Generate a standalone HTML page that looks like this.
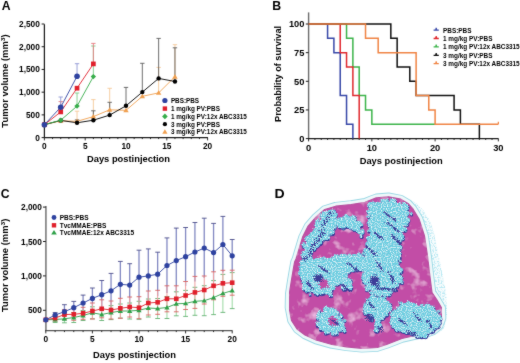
<!DOCTYPE html>
<html><head><meta charset="utf-8"><style>
html,body{margin:0;padding:0;background:#fff;}
svg{display:block;}
</style></head><body>
<svg width="520" height="363" viewBox="0 0 520 363" font-family="'Liberation Sans', sans-serif">
<defs><filter id="gb" x="0" y="0" width="520" height="363" filterUnits="userSpaceOnUse" color-interpolation-filters="sRGB"><feConvolveMatrix order="3" kernelMatrix="1 3.2 1 3.2 36 3.2 1 3.2 1" divisor="52.8" edgeMode="duplicate" preserveAlpha="true"/></filter></defs>
<g filter="url(#gb)">
<rect width="520" height="363" fill="#fff"/>
<text x="1.8" y="10.1" font-size="12.2" font-family="'Liberation Sans', sans-serif" font-weight="bold">A</text>
<path d="M44.4 24.3 V137.6 H207.9" stroke="#1c1c1c" stroke-width="1.25" fill="none"/>
<line x1="41.6" y1="137.60" x2="44.4" y2="137.60" stroke="#1c1c1c" stroke-width="1"/>
<text x="39.8" y="140.50" font-size="8.3" text-anchor="end" font-family="'Liberation Sans', sans-serif" font-weight="bold">0</text>
<line x1="41.6" y1="114.88" x2="44.4" y2="114.88" stroke="#1c1c1c" stroke-width="1"/>
<text x="39.8" y="117.78" font-size="8.3" text-anchor="end" font-family="'Liberation Sans', sans-serif" font-weight="bold">500</text>
<line x1="41.6" y1="92.16" x2="44.4" y2="92.16" stroke="#1c1c1c" stroke-width="1"/>
<text x="39.8" y="95.06" font-size="8.3" text-anchor="end" font-family="'Liberation Sans', sans-serif" font-weight="bold">1,000</text>
<line x1="41.6" y1="69.44" x2="44.4" y2="69.44" stroke="#1c1c1c" stroke-width="1"/>
<text x="39.8" y="72.34" font-size="8.3" text-anchor="end" font-family="'Liberation Sans', sans-serif" font-weight="bold">1,500</text>
<line x1="41.6" y1="46.72" x2="44.4" y2="46.72" stroke="#1c1c1c" stroke-width="1"/>
<text x="39.8" y="49.62" font-size="8.3" text-anchor="end" font-family="'Liberation Sans', sans-serif" font-weight="bold">2,000</text>
<line x1="41.6" y1="24.00" x2="44.4" y2="24.00" stroke="#1c1c1c" stroke-width="1"/>
<text x="39.8" y="26.90" font-size="8.3" text-anchor="end" font-family="'Liberation Sans', sans-serif" font-weight="bold">2,500</text>
<line x1="44.40" y1="137.6" x2="44.40" y2="140.4" stroke="#1c1c1c" stroke-width="0.9"/>
<text x="44.40" y="148.6" font-size="8.3" text-anchor="middle" font-family="'Liberation Sans', sans-serif" font-weight="bold">0</text>
<line x1="52.56" y1="137.6" x2="52.56" y2="139.1" stroke="#1c1c1c" stroke-width="0.9"/>
<line x1="60.72" y1="137.6" x2="60.72" y2="139.1" stroke="#1c1c1c" stroke-width="0.9"/>
<line x1="68.88" y1="137.6" x2="68.88" y2="139.1" stroke="#1c1c1c" stroke-width="0.9"/>
<line x1="77.04" y1="137.6" x2="77.04" y2="139.1" stroke="#1c1c1c" stroke-width="0.9"/>
<line x1="85.20" y1="137.6" x2="85.20" y2="140.4" stroke="#1c1c1c" stroke-width="0.9"/>
<text x="85.20" y="148.6" font-size="8.3" text-anchor="middle" font-family="'Liberation Sans', sans-serif" font-weight="bold">5</text>
<line x1="93.36" y1="137.6" x2="93.36" y2="139.1" stroke="#1c1c1c" stroke-width="0.9"/>
<line x1="101.52" y1="137.6" x2="101.52" y2="139.1" stroke="#1c1c1c" stroke-width="0.9"/>
<line x1="109.68" y1="137.6" x2="109.68" y2="139.1" stroke="#1c1c1c" stroke-width="0.9"/>
<line x1="117.84" y1="137.6" x2="117.84" y2="139.1" stroke="#1c1c1c" stroke-width="0.9"/>
<line x1="126.00" y1="137.6" x2="126.00" y2="140.4" stroke="#1c1c1c" stroke-width="0.9"/>
<text x="126.00" y="148.6" font-size="8.3" text-anchor="middle" font-family="'Liberation Sans', sans-serif" font-weight="bold">10</text>
<line x1="134.16" y1="137.6" x2="134.16" y2="139.1" stroke="#1c1c1c" stroke-width="0.9"/>
<line x1="142.32" y1="137.6" x2="142.32" y2="139.1" stroke="#1c1c1c" stroke-width="0.9"/>
<line x1="150.48" y1="137.6" x2="150.48" y2="139.1" stroke="#1c1c1c" stroke-width="0.9"/>
<line x1="158.64" y1="137.6" x2="158.64" y2="139.1" stroke="#1c1c1c" stroke-width="0.9"/>
<line x1="166.80" y1="137.6" x2="166.80" y2="140.4" stroke="#1c1c1c" stroke-width="0.9"/>
<text x="166.80" y="148.6" font-size="8.3" text-anchor="middle" font-family="'Liberation Sans', sans-serif" font-weight="bold">15</text>
<line x1="174.96" y1="137.6" x2="174.96" y2="139.1" stroke="#1c1c1c" stroke-width="0.9"/>
<line x1="183.12" y1="137.6" x2="183.12" y2="139.1" stroke="#1c1c1c" stroke-width="0.9"/>
<line x1="191.28" y1="137.6" x2="191.28" y2="139.1" stroke="#1c1c1c" stroke-width="0.9"/>
<line x1="199.44" y1="137.6" x2="199.44" y2="139.1" stroke="#1c1c1c" stroke-width="0.9"/>
<line x1="207.60" y1="137.6" x2="207.60" y2="140.4" stroke="#1c1c1c" stroke-width="0.9"/>
<text x="207.60" y="148.6" font-size="8.3" text-anchor="middle" font-family="'Liberation Sans', sans-serif" font-weight="bold">20</text>
<text x="128.5" y="161.6" font-size="9.35" text-anchor="middle" font-family="'Liberation Sans', sans-serif" font-weight="bold">Days postinjection</text>
<text transform="translate(8.0 81.0) rotate(-90) scale(1 0.9)" font-size="9.4" text-anchor="middle" font-family="'Liberation Sans', sans-serif" font-weight="bold">Tumor volume (mm<tspan font-size="6.6" dy="-3.4">3</tspan><tspan dy="3.4">)</tspan></text>
<line x1="77.04" y1="111.20" x2="77.04" y2="121.30" stroke="#f5c898" stroke-width="0.9"/><line x1="74.84" y1="111.20" x2="79.24" y2="111.20" stroke="#f5c898" stroke-width="0.9"/>
<line x1="93.36" y1="99.60" x2="93.36" y2="116.60" stroke="#f5c898" stroke-width="0.9"/><line x1="91.16" y1="99.60" x2="95.56" y2="99.60" stroke="#f5c898" stroke-width="0.9"/>
<line x1="109.68" y1="88.30" x2="109.68" y2="109.80" stroke="#f5c898" stroke-width="0.9"/><line x1="107.48" y1="88.30" x2="111.88" y2="88.30" stroke="#f5c898" stroke-width="0.9"/>
<line x1="158.64" y1="67.40" x2="158.64" y2="92.90" stroke="#f5c898" stroke-width="0.9"/><line x1="156.44" y1="67.40" x2="160.84" y2="67.40" stroke="#f5c898" stroke-width="0.9"/>
<line x1="174.96" y1="44.70" x2="174.96" y2="76.70" stroke="#f5c898" stroke-width="0.9"/><line x1="172.76" y1="44.70" x2="177.16" y2="44.70" stroke="#f5c898" stroke-width="0.9"/>
<line x1="77.04" y1="119.90" x2="77.04" y2="122.80" stroke="#5e5e5e" stroke-width="0.9"/><line x1="74.84" y1="119.90" x2="79.24" y2="119.90" stroke="#5e5e5e" stroke-width="0.9"/>
<line x1="93.36" y1="110.80" x2="93.36" y2="120.20" stroke="#5e5e5e" stroke-width="0.9"/><line x1="91.16" y1="110.80" x2="95.56" y2="110.80" stroke="#5e5e5e" stroke-width="0.9"/>
<line x1="109.68" y1="102.30" x2="109.68" y2="115.10" stroke="#5e5e5e" stroke-width="0.9"/><line x1="107.48" y1="102.30" x2="111.88" y2="102.30" stroke="#5e5e5e" stroke-width="0.9"/>
<line x1="126.00" y1="87.40" x2="126.00" y2="105.80" stroke="#5e5e5e" stroke-width="0.9"/><line x1="123.80" y1="87.40" x2="128.20" y2="87.40" stroke="#5e5e5e" stroke-width="0.9"/>
<line x1="142.32" y1="63.30" x2="142.32" y2="92.10" stroke="#5e5e5e" stroke-width="0.9"/><line x1="140.12" y1="63.30" x2="144.52" y2="63.30" stroke="#5e5e5e" stroke-width="0.9"/>
<line x1="158.64" y1="38.40" x2="158.64" y2="78.40" stroke="#5e5e5e" stroke-width="0.9"/><line x1="156.44" y1="38.40" x2="160.84" y2="38.40" stroke="#5e5e5e" stroke-width="0.9"/>
<line x1="174.96" y1="47.80" x2="174.96" y2="81.50" stroke="#5e5e5e" stroke-width="0.9"/><line x1="172.76" y1="47.80" x2="177.16" y2="47.80" stroke="#5e5e5e" stroke-width="0.9"/>
<line x1="77.04" y1="93.00" x2="77.04" y2="106.10" stroke="#7ccc88" stroke-width="0.9"/><line x1="74.84" y1="93.00" x2="79.24" y2="93.00" stroke="#7ccc88" stroke-width="0.9"/>
<line x1="93.36" y1="46.00" x2="93.36" y2="76.60" stroke="#7ccc88" stroke-width="0.9"/><line x1="91.16" y1="46.00" x2="95.56" y2="46.00" stroke="#7ccc88" stroke-width="0.9"/>
<line x1="60.72" y1="101.60" x2="60.72" y2="111.90" stroke="#e87a80" stroke-width="0.9"/><line x1="58.52" y1="101.60" x2="62.92" y2="101.60" stroke="#e87a80" stroke-width="0.9"/>
<line x1="93.36" y1="43.40" x2="93.36" y2="63.90" stroke="#e87a80" stroke-width="0.9"/><line x1="91.16" y1="43.40" x2="95.56" y2="43.40" stroke="#e87a80" stroke-width="0.9"/>
<line x1="60.72" y1="97.00" x2="60.72" y2="107.20" stroke="#8e96d4" stroke-width="0.9"/><line x1="58.52" y1="97.00" x2="62.92" y2="97.00" stroke="#8e96d4" stroke-width="0.9"/>
<line x1="77.04" y1="63.70" x2="77.04" y2="76.30" stroke="#8e96d4" stroke-width="0.9"/><line x1="74.84" y1="63.70" x2="79.24" y2="63.70" stroke="#8e96d4" stroke-width="0.9"/>
<polyline points="44.40,124.70 60.72,120.80 77.04,121.30 93.36,116.60 109.68,109.80 126.00,110.30 142.32,96.30 158.64,92.90 174.96,76.70" fill="none" stroke="#f0a050" stroke-width="0.9"/>
<polyline points="44.40,124.70 60.72,120.40 77.04,122.80 93.36,120.20 109.68,115.10 126.00,105.80 142.32,92.10 158.64,78.40 174.96,81.50" fill="none" stroke="#000000" stroke-width="0.9"/>
<polyline points="44.40,124.70 60.72,120.20 77.04,106.10 93.36,76.60" fill="none" stroke="#36ad4a" stroke-width="0.9"/>
<polyline points="44.40,124.70 60.72,111.90 77.04,88.20 93.36,63.90" fill="none" stroke="#e0202c" stroke-width="0.9"/>
<polyline points="44.40,124.70 60.72,107.20 77.04,76.30" fill="none" stroke="#2e42a0" stroke-width="0.9"/>
<path d="M44.40 122.10L47.13 126.65L41.67 126.65Z" fill="#f0a050"/>
<path d="M60.72 118.20L63.45 122.75L57.99 122.75Z" fill="#f0a050"/>
<path d="M77.04 118.70L79.77 123.25L74.31 123.25Z" fill="#f0a050"/>
<path d="M93.36 114.00L96.09 118.55L90.63 118.55Z" fill="#f0a050"/>
<path d="M109.68 107.20L112.41 111.75L106.95 111.75Z" fill="#f0a050"/>
<path d="M126.00 107.70L128.73 112.25L123.27 112.25Z" fill="#f0a050"/>
<path d="M142.32 93.70L145.05 98.25L139.59 98.25Z" fill="#f0a050"/>
<path d="M158.64 90.30L161.37 94.85L155.91 94.85Z" fill="#f0a050"/>
<path d="M174.96 74.10L177.69 78.65L172.23 78.65Z" fill="#f0a050"/>
<circle cx="44.40" cy="124.70" r="2.2" fill="#000000"/>
<circle cx="60.72" cy="120.40" r="2.2" fill="#000000"/>
<circle cx="77.04" cy="122.80" r="2.2" fill="#000000"/>
<circle cx="93.36" cy="120.20" r="2.2" fill="#000000"/>
<circle cx="109.68" cy="115.10" r="2.2" fill="#000000"/>
<circle cx="126.00" cy="105.80" r="2.2" fill="#000000"/>
<circle cx="142.32" cy="92.10" r="2.2" fill="#000000"/>
<circle cx="158.64" cy="78.40" r="2.2" fill="#000000"/>
<circle cx="174.96" cy="81.50" r="2.2" fill="#000000"/>
<path d="M44.40 122.00L47.10 124.70L44.40 127.40L41.70 124.70Z" fill="#36ad4a"/>
<path d="M60.72 117.50L63.42 120.20L60.72 122.90L58.02 120.20Z" fill="#36ad4a"/>
<path d="M77.04 103.40L79.74 106.10L77.04 108.80L74.34 106.10Z" fill="#36ad4a"/>
<path d="M93.36 73.90L96.06 76.60L93.36 79.30L90.66 76.60Z" fill="#36ad4a"/>
<rect x="42.05" y="122.35" width="4.7" height="4.7" fill="#e0202c"/>
<rect x="58.37" y="109.55" width="4.7" height="4.7" fill="#e0202c"/>
<rect x="74.69" y="85.85" width="4.7" height="4.7" fill="#e0202c"/>
<rect x="91.01" y="61.55" width="4.7" height="4.7" fill="#e0202c"/>
<circle cx="44.40" cy="124.70" r="2.8" fill="#2e42a0"/>
<circle cx="60.72" cy="107.20" r="2.8" fill="#2e42a0"/>
<circle cx="77.04" cy="76.30" r="2.8" fill="#2e42a0"/>
<circle cx="164.90" cy="100.50" r="2.6" fill="#2e42a0"/>
<text x="170.9" y="102.80" font-size="6.35" font-family="'Liberation Sans', sans-serif" font-weight="bold">PBS:PBS</text>
<rect x="162.70" y="106.40" width="4.4" height="4.4" fill="#e0202c"/>
<text x="170.9" y="110.90" font-size="6.35" font-family="'Liberation Sans', sans-serif" font-weight="bold">1 mg/kg PV:PBS</text>
<path d="M164.90 113.60L167.70 116.40L164.90 119.20L162.10 116.40Z" fill="#36ad4a"/>
<text x="170.9" y="118.70" font-size="6.35" font-family="'Liberation Sans', sans-serif" font-weight="bold">1 mg/kg PV:12x ABC3315</text>
<circle cx="164.90" cy="124.20" r="2.1" fill="#000000"/>
<text x="170.9" y="126.50" font-size="6.35" font-family="'Liberation Sans', sans-serif" font-weight="bold">3 mg/kg PV:PBS</text>
<path d="M164.90 129.30L167.53 133.68L162.28 133.68Z" fill="#f0a050"/>
<text x="170.9" y="134.10" font-size="6.35" font-family="'Liberation Sans', sans-serif" font-weight="bold">3 mg/kg PV:12x ABC3315</text>
<text x="272.3" y="10.0" font-size="12.3" font-family="'Liberation Sans', sans-serif" font-weight="bold">B</text>
<path d="M308.6 12.4 V138.6" stroke="#6c6c6c" stroke-width="1.4" fill="none"/>
<path d="M308.0 138.6 H498.55" stroke="#1c1c1c" stroke-width="1.2" fill="none"/>
<line x1="305.8" y1="138.60" x2="308.6" y2="138.60" stroke="#1c1c1c" stroke-width="1"/>
<text x="304.40000000000003" y="141.90" font-size="9.3" text-anchor="end" font-family="'Liberation Sans', sans-serif" font-weight="bold">0</text>
<line x1="305.8" y1="109.95" x2="308.6" y2="109.95" stroke="#1c1c1c" stroke-width="1"/>
<text x="304.40000000000003" y="113.25" font-size="9.3" text-anchor="end" font-family="'Liberation Sans', sans-serif" font-weight="bold">25</text>
<line x1="305.8" y1="81.30" x2="308.6" y2="81.30" stroke="#1c1c1c" stroke-width="1"/>
<text x="304.40000000000003" y="84.60" font-size="9.3" text-anchor="end" font-family="'Liberation Sans', sans-serif" font-weight="bold">50</text>
<line x1="305.8" y1="52.65" x2="308.6" y2="52.65" stroke="#1c1c1c" stroke-width="1"/>
<text x="304.40000000000003" y="55.95" font-size="9.3" text-anchor="end" font-family="'Liberation Sans', sans-serif" font-weight="bold">75</text>
<line x1="305.8" y1="24.00" x2="308.6" y2="24.00" stroke="#1c1c1c" stroke-width="1"/>
<text x="304.40000000000003" y="27.30" font-size="9.3" text-anchor="end" font-family="'Liberation Sans', sans-serif" font-weight="bold">100</text>
<line x1="308.60" y1="138.6" x2="308.60" y2="141.4" stroke="#1c1c1c" stroke-width="0.9"/>
<text x="308.60" y="150.5" font-size="9.3" text-anchor="middle" font-family="'Liberation Sans', sans-serif" font-weight="bold">0</text>
<line x1="314.93" y1="138.6" x2="314.93" y2="140.0" stroke="#1c1c1c" stroke-width="0.9"/>
<line x1="321.25" y1="138.6" x2="321.25" y2="140.0" stroke="#1c1c1c" stroke-width="0.9"/>
<line x1="327.58" y1="138.6" x2="327.58" y2="140.0" stroke="#1c1c1c" stroke-width="0.9"/>
<line x1="333.90" y1="138.6" x2="333.90" y2="140.0" stroke="#1c1c1c" stroke-width="0.9"/>
<line x1="340.23" y1="138.6" x2="340.23" y2="140.0" stroke="#1c1c1c" stroke-width="0.9"/>
<line x1="346.55" y1="138.6" x2="346.55" y2="140.0" stroke="#1c1c1c" stroke-width="0.9"/>
<line x1="352.88" y1="138.6" x2="352.88" y2="140.0" stroke="#1c1c1c" stroke-width="0.9"/>
<line x1="359.20" y1="138.6" x2="359.20" y2="140.0" stroke="#1c1c1c" stroke-width="0.9"/>
<line x1="365.53" y1="138.6" x2="365.53" y2="140.0" stroke="#1c1c1c" stroke-width="0.9"/>
<line x1="371.85" y1="138.6" x2="371.85" y2="141.4" stroke="#1c1c1c" stroke-width="0.9"/>
<text x="371.85" y="150.5" font-size="9.3" text-anchor="middle" font-family="'Liberation Sans', sans-serif" font-weight="bold">10</text>
<line x1="378.18" y1="138.6" x2="378.18" y2="140.0" stroke="#1c1c1c" stroke-width="0.9"/>
<line x1="384.50" y1="138.6" x2="384.50" y2="140.0" stroke="#1c1c1c" stroke-width="0.9"/>
<line x1="390.83" y1="138.6" x2="390.83" y2="140.0" stroke="#1c1c1c" stroke-width="0.9"/>
<line x1="397.15" y1="138.6" x2="397.15" y2="140.0" stroke="#1c1c1c" stroke-width="0.9"/>
<line x1="403.48" y1="138.6" x2="403.48" y2="140.0" stroke="#1c1c1c" stroke-width="0.9"/>
<line x1="409.80" y1="138.6" x2="409.80" y2="140.0" stroke="#1c1c1c" stroke-width="0.9"/>
<line x1="416.12" y1="138.6" x2="416.12" y2="140.0" stroke="#1c1c1c" stroke-width="0.9"/>
<line x1="422.45" y1="138.6" x2="422.45" y2="140.0" stroke="#1c1c1c" stroke-width="0.9"/>
<line x1="428.78" y1="138.6" x2="428.78" y2="140.0" stroke="#1c1c1c" stroke-width="0.9"/>
<line x1="435.10" y1="138.6" x2="435.10" y2="141.4" stroke="#1c1c1c" stroke-width="0.9"/>
<text x="435.10" y="150.5" font-size="9.3" text-anchor="middle" font-family="'Liberation Sans', sans-serif" font-weight="bold">20</text>
<line x1="441.43" y1="138.6" x2="441.43" y2="140.0" stroke="#1c1c1c" stroke-width="0.9"/>
<line x1="447.75" y1="138.6" x2="447.75" y2="140.0" stroke="#1c1c1c" stroke-width="0.9"/>
<line x1="454.08" y1="138.6" x2="454.08" y2="140.0" stroke="#1c1c1c" stroke-width="0.9"/>
<line x1="460.40" y1="138.6" x2="460.40" y2="140.0" stroke="#1c1c1c" stroke-width="0.9"/>
<line x1="466.73" y1="138.6" x2="466.73" y2="140.0" stroke="#1c1c1c" stroke-width="0.9"/>
<line x1="473.05" y1="138.6" x2="473.05" y2="140.0" stroke="#1c1c1c" stroke-width="0.9"/>
<line x1="479.38" y1="138.6" x2="479.38" y2="140.0" stroke="#1c1c1c" stroke-width="0.9"/>
<line x1="485.70" y1="138.6" x2="485.70" y2="140.0" stroke="#1c1c1c" stroke-width="0.9"/>
<line x1="492.03" y1="138.6" x2="492.03" y2="140.0" stroke="#1c1c1c" stroke-width="0.9"/>
<line x1="498.35" y1="138.6" x2="498.35" y2="141.4" stroke="#1c1c1c" stroke-width="0.9"/>
<text x="498.35" y="150.5" font-size="9.3" text-anchor="middle" font-family="'Liberation Sans', sans-serif" font-weight="bold">30</text>
<text x="401.2" y="163.5" font-size="9.35" text-anchor="middle" font-family="'Liberation Sans', sans-serif" font-weight="bold">Days postinjection</text>
<text transform="translate(281.4 73.9) rotate(-90)" font-size="9.2" text-anchor="middle" font-family="'Liberation Sans', sans-serif" font-weight="bold">Probability of survival</text>
<polyline points="308.60,24.00 346.55,24.00 346.55,38.33 352.88,38.33 352.88,66.97 359.20,66.97 359.20,95.62 365.53,95.62 365.53,109.95 371.85,109.95 371.85,124.27 435.10,124.27" fill="none" stroke="#3cb44a" stroke-width="1.5" stroke-linejoin="miter"/>
<polyline points="308.60,24.00 327.58,24.00 327.58,38.33 333.90,38.33 333.90,52.65 340.23,52.65 340.23,95.62 346.55,95.62 346.55,124.27 352.88,124.27 352.88,138.60" fill="none" stroke="#3848a8" stroke-width="1.5" stroke-linejoin="miter"/>
<polyline points="308.60,24.00 340.23,24.00 340.23,52.65 346.55,52.65 346.55,66.97 352.88,66.97 352.88,95.62 359.20,95.62 359.20,138.60" fill="none" stroke="#e0282e" stroke-width="1.5" stroke-linejoin="miter"/>
<polyline points="308.60,24.00 390.83,24.00 390.83,38.33 397.15,38.33 397.15,66.97 409.80,66.97 409.80,81.30 416.12,81.30 416.12,95.62 454.08,95.62 454.08,109.95 460.40,109.95 460.40,124.27 479.38,124.27 479.38,138.60" fill="none" stroke="#111111" stroke-width="1.5" stroke-linejoin="miter"/>
<polyline points="308.60,24.00 365.53,24.00 365.53,38.33 378.18,38.33 378.18,52.65 416.12,52.65 416.12,95.62 428.78,95.62 428.78,109.95 435.10,109.95 435.10,124.27 498.35,124.27" fill="none" stroke="#f08444" stroke-width="1.5" stroke-linejoin="miter"/>
<line x1="498.35" y1="124.27" x2="498.35" y2="121.77" stroke="#f08444" stroke-width="1.2"/>
<path d="M433.60 30.10H438.80M436.20 30.10V27.70" stroke="#3848a8" stroke-width="1.3" fill="none"/>
<path d="M434.90 29.60L436.20 28.30L437.50 29.60Z" fill="#3848a8"/>
<text x="443.0" y="32.50" font-size="6.42" font-family="'Liberation Sans', sans-serif" font-weight="bold">PBS:PBS</text>
<path d="M433.60 38.50H438.80M436.20 38.50V36.10" stroke="#e0282e" stroke-width="1.3" fill="none"/>
<path d="M434.90 38.00L436.20 36.70L437.50 38.00Z" fill="#e0282e"/>
<text x="443.0" y="40.90" font-size="6.42" font-family="'Liberation Sans', sans-serif" font-weight="bold">1 mg/kg PV:PBS</text>
<path d="M433.60 46.90H438.80M436.20 46.90V44.50" stroke="#3cb44a" stroke-width="1.3" fill="none"/>
<path d="M434.90 46.40L436.20 45.10L437.50 46.40Z" fill="#3cb44a"/>
<text x="443.0" y="49.30" font-size="6.42" font-family="'Liberation Sans', sans-serif" font-weight="bold">1 mg/kg PV:12x ABC3315</text>
<path d="M433.60 55.30H438.80M436.20 55.30V52.90" stroke="#111111" stroke-width="1.3" fill="none"/>
<path d="M434.90 54.80L436.20 53.50L437.50 54.80Z" fill="#111111"/>
<text x="443.0" y="57.70" font-size="6.42" font-family="'Liberation Sans', sans-serif" font-weight="bold">3 mg/kg PV:PBS</text>
<path d="M433.60 63.70H438.80M436.20 63.70V61.30" stroke="#f08444" stroke-width="1.3" fill="none"/>
<path d="M434.90 63.20L436.20 61.90L437.50 63.20Z" fill="#f08444"/>
<text x="443.0" y="66.10" font-size="6.42" font-family="'Liberation Sans', sans-serif" font-weight="bold">3 mg/kg PV:12x ABC3315</text>
<text x="0.7" y="198.2" font-size="12.2" font-family="'Liberation Sans', sans-serif" font-weight="bold">C</text>
<path d="M45.9 206.0 V330.6" stroke="#8a8a8a" stroke-width="1.8" fill="none"/>
<path d="M45.0 330.6 H232.5" stroke="#555" stroke-width="1.4" fill="none"/>
<line x1="43.0" y1="310.30" x2="45.8" y2="310.30" stroke="#1c1c1c" stroke-width="1"/>
<text x="41.8" y="313.30" font-size="8.3" text-anchor="end" font-family="'Liberation Sans', sans-serif" font-weight="bold">500</text>
<line x1="43.0" y1="275.90" x2="45.8" y2="275.90" stroke="#1c1c1c" stroke-width="1"/>
<text x="41.8" y="278.90" font-size="8.3" text-anchor="end" font-family="'Liberation Sans', sans-serif" font-weight="bold">1,000</text>
<line x1="43.0" y1="241.50" x2="45.8" y2="241.50" stroke="#1c1c1c" stroke-width="1"/>
<text x="41.8" y="244.50" font-size="8.3" text-anchor="end" font-family="'Liberation Sans', sans-serif" font-weight="bold">1,500</text>
<line x1="43.0" y1="207.10" x2="45.8" y2="207.10" stroke="#1c1c1c" stroke-width="1"/>
<text x="41.8" y="210.10" font-size="8.3" text-anchor="end" font-family="'Liberation Sans', sans-serif" font-weight="bold">2,000</text>
<line x1="45.80" y1="330.6" x2="45.80" y2="333.40000000000003" stroke="#1c1c1c" stroke-width="0.9"/>
<text x="45.80" y="341.9" font-size="8.3" text-anchor="middle" font-family="'Liberation Sans', sans-serif" font-weight="bold">0</text>
<line x1="55.12" y1="330.6" x2="55.12" y2="332.1" stroke="#1c1c1c" stroke-width="0.9"/>
<line x1="64.44" y1="330.6" x2="64.44" y2="332.1" stroke="#1c1c1c" stroke-width="0.9"/>
<line x1="73.76" y1="330.6" x2="73.76" y2="332.1" stroke="#1c1c1c" stroke-width="0.9"/>
<line x1="83.08" y1="330.6" x2="83.08" y2="332.1" stroke="#1c1c1c" stroke-width="0.9"/>
<line x1="92.40" y1="330.6" x2="92.40" y2="333.40000000000003" stroke="#1c1c1c" stroke-width="0.9"/>
<text x="92.40" y="341.9" font-size="8.3" text-anchor="middle" font-family="'Liberation Sans', sans-serif" font-weight="bold">5</text>
<line x1="101.72" y1="330.6" x2="101.72" y2="332.1" stroke="#1c1c1c" stroke-width="0.9"/>
<line x1="111.04" y1="330.6" x2="111.04" y2="332.1" stroke="#1c1c1c" stroke-width="0.9"/>
<line x1="120.36" y1="330.6" x2="120.36" y2="332.1" stroke="#1c1c1c" stroke-width="0.9"/>
<line x1="129.68" y1="330.6" x2="129.68" y2="332.1" stroke="#1c1c1c" stroke-width="0.9"/>
<line x1="139.00" y1="330.6" x2="139.00" y2="333.40000000000003" stroke="#1c1c1c" stroke-width="0.9"/>
<text x="139.00" y="341.9" font-size="8.3" text-anchor="middle" font-family="'Liberation Sans', sans-serif" font-weight="bold">10</text>
<line x1="148.32" y1="330.6" x2="148.32" y2="332.1" stroke="#1c1c1c" stroke-width="0.9"/>
<line x1="157.64" y1="330.6" x2="157.64" y2="332.1" stroke="#1c1c1c" stroke-width="0.9"/>
<line x1="166.96" y1="330.6" x2="166.96" y2="332.1" stroke="#1c1c1c" stroke-width="0.9"/>
<line x1="176.28" y1="330.6" x2="176.28" y2="332.1" stroke="#1c1c1c" stroke-width="0.9"/>
<line x1="185.60" y1="330.6" x2="185.60" y2="333.40000000000003" stroke="#1c1c1c" stroke-width="0.9"/>
<text x="185.60" y="341.9" font-size="8.3" text-anchor="middle" font-family="'Liberation Sans', sans-serif" font-weight="bold">15</text>
<line x1="194.92" y1="330.6" x2="194.92" y2="332.1" stroke="#1c1c1c" stroke-width="0.9"/>
<line x1="204.24" y1="330.6" x2="204.24" y2="332.1" stroke="#1c1c1c" stroke-width="0.9"/>
<line x1="213.56" y1="330.6" x2="213.56" y2="332.1" stroke="#1c1c1c" stroke-width="0.9"/>
<line x1="222.88" y1="330.6" x2="222.88" y2="332.1" stroke="#1c1c1c" stroke-width="0.9"/>
<line x1="232.20" y1="330.6" x2="232.20" y2="333.40000000000003" stroke="#1c1c1c" stroke-width="0.9"/>
<text x="232.20" y="341.9" font-size="8.3" text-anchor="middle" font-family="'Liberation Sans', sans-serif" font-weight="bold">20</text>
<text x="134.5" y="357.8" font-size="9.35" text-anchor="middle" font-family="'Liberation Sans', sans-serif" font-weight="bold">Days postinjection</text>
<text transform="translate(8.0 265.3) rotate(-90) scale(1 0.9)" font-size="9.4" text-anchor="middle" font-family="'Liberation Sans', sans-serif" font-weight="bold">Tumor volume (mm<tspan font-size="6.6" dy="-3.4">3</tspan><tspan dy="3.4">)</tspan></text>
<line x1="55.12" y1="312.60" x2="55.12" y2="317.40" stroke="#8288c2" stroke-width="1.3"/>
<line x1="52.72" y1="312.60" x2="57.52" y2="312.60" stroke="#4a4c88" stroke-width="0.9"/>
<line x1="64.44" y1="304.70" x2="64.44" y2="318.70" stroke="#8288c2" stroke-width="1.3"/>
<line x1="62.04" y1="304.70" x2="66.84" y2="304.70" stroke="#4a4c88" stroke-width="0.9"/>
<line x1="73.76" y1="301.40" x2="73.76" y2="314.00" stroke="#8288c2" stroke-width="1.3"/>
<line x1="71.36" y1="301.40" x2="76.16" y2="301.40" stroke="#4a4c88" stroke-width="0.9"/>
<line x1="83.08" y1="295.10" x2="83.08" y2="310.90" stroke="#8288c2" stroke-width="1.3"/>
<line x1="80.68" y1="295.10" x2="85.48" y2="295.10" stroke="#4a4c88" stroke-width="0.9"/>
<line x1="92.40" y1="288.00" x2="92.40" y2="308.80" stroke="#8288c2" stroke-width="1.3"/>
<line x1="90.00" y1="288.00" x2="94.80" y2="288.00" stroke="#4a4c88" stroke-width="0.9"/>
<line x1="101.72" y1="280.50" x2="101.72" y2="308.90" stroke="#8288c2" stroke-width="1.3"/>
<line x1="99.32" y1="280.50" x2="104.12" y2="280.50" stroke="#4a4c88" stroke-width="0.9"/>
<line x1="111.04" y1="273.40" x2="111.04" y2="308.20" stroke="#8288c2" stroke-width="1.3"/>
<line x1="108.64" y1="273.40" x2="113.44" y2="273.40" stroke="#4a4c88" stroke-width="0.9"/>
<line x1="120.36" y1="261.40" x2="120.36" y2="307.20" stroke="#8288c2" stroke-width="1.3"/>
<line x1="117.96" y1="261.40" x2="122.76" y2="261.40" stroke="#4a4c88" stroke-width="0.9"/>
<line x1="129.68" y1="263.70" x2="129.68" y2="306.50" stroke="#8288c2" stroke-width="1.3"/>
<line x1="127.28" y1="263.70" x2="132.08" y2="263.70" stroke="#4a4c88" stroke-width="0.9"/>
<line x1="139.00" y1="250.20" x2="139.00" y2="304.20" stroke="#8288c2" stroke-width="1.3"/>
<line x1="136.60" y1="250.20" x2="141.40" y2="250.20" stroke="#4a4c88" stroke-width="0.9"/>
<line x1="148.32" y1="248.90" x2="148.32" y2="302.90" stroke="#8288c2" stroke-width="1.3"/>
<line x1="145.92" y1="248.90" x2="150.72" y2="248.90" stroke="#4a4c88" stroke-width="0.9"/>
<line x1="157.64" y1="252.20" x2="157.64" y2="296.20" stroke="#8288c2" stroke-width="1.3"/>
<line x1="155.24" y1="252.20" x2="160.04" y2="252.20" stroke="#4a4c88" stroke-width="0.9"/>
<line x1="166.96" y1="237.90" x2="166.96" y2="293.10" stroke="#8288c2" stroke-width="1.3"/>
<line x1="164.56" y1="237.90" x2="169.36" y2="237.90" stroke="#4a4c88" stroke-width="0.9"/>
<line x1="176.28" y1="228.10" x2="176.28" y2="293.10" stroke="#8288c2" stroke-width="1.3"/>
<line x1="173.88" y1="228.10" x2="178.68" y2="228.10" stroke="#4a4c88" stroke-width="0.9"/>
<line x1="185.60" y1="227.50" x2="185.60" y2="285.90" stroke="#8288c2" stroke-width="1.3"/>
<line x1="183.20" y1="227.50" x2="188.00" y2="227.50" stroke="#4a4c88" stroke-width="0.9"/>
<line x1="194.92" y1="222.50" x2="194.92" y2="281.50" stroke="#8288c2" stroke-width="1.3"/>
<line x1="192.52" y1="222.50" x2="197.32" y2="222.50" stroke="#4a4c88" stroke-width="0.9"/>
<line x1="204.24" y1="218.20" x2="204.24" y2="278.00" stroke="#8288c2" stroke-width="1.3"/>
<line x1="201.84" y1="218.20" x2="206.64" y2="218.20" stroke="#4a4c88" stroke-width="0.9"/>
<line x1="213.56" y1="223.40" x2="213.56" y2="281.80" stroke="#8288c2" stroke-width="1.3"/>
<line x1="211.16" y1="223.40" x2="215.96" y2="223.40" stroke="#4a4c88" stroke-width="0.9"/>
<line x1="222.88" y1="216.40" x2="222.88" y2="272.60" stroke="#8288c2" stroke-width="1.3"/>
<line x1="220.48" y1="216.40" x2="225.28" y2="216.40" stroke="#4a4c88" stroke-width="0.9"/>
<line x1="232.20" y1="239.50" x2="232.20" y2="272.10" stroke="#8288c2" stroke-width="1.3"/>
<line x1="229.80" y1="239.50" x2="234.60" y2="239.50" stroke="#4a4c88" stroke-width="0.9"/>
<line x1="55.12" y1="316.50" x2="55.12" y2="322.50" stroke="#98d8a0" stroke-width="1"/>
<line x1="52.72" y1="322.50" x2="57.52" y2="322.50" stroke="#62b070" stroke-width="0.9"/>
<line x1="52.72" y1="316.50" x2="57.52" y2="316.50" stroke="#62b070" stroke-width="0.9"/>
<line x1="64.44" y1="314.80" x2="64.44" y2="322.80" stroke="#98d8a0" stroke-width="1"/>
<line x1="62.04" y1="322.80" x2="66.84" y2="322.80" stroke="#62b070" stroke-width="0.9"/>
<line x1="62.04" y1="314.80" x2="66.84" y2="314.80" stroke="#62b070" stroke-width="0.9"/>
<line x1="73.76" y1="312.50" x2="73.76" y2="322.50" stroke="#98d8a0" stroke-width="1"/>
<line x1="71.36" y1="322.50" x2="76.16" y2="322.50" stroke="#62b070" stroke-width="0.9"/>
<line x1="71.36" y1="312.50" x2="76.16" y2="312.50" stroke="#62b070" stroke-width="0.9"/>
<line x1="83.08" y1="310.50" x2="83.08" y2="320.50" stroke="#98d8a0" stroke-width="1"/>
<line x1="80.68" y1="320.50" x2="85.48" y2="320.50" stroke="#62b070" stroke-width="0.9"/>
<line x1="80.68" y1="310.50" x2="85.48" y2="310.50" stroke="#62b070" stroke-width="0.9"/>
<line x1="92.40" y1="306.80" x2="92.40" y2="318.80" stroke="#98d8a0" stroke-width="1"/>
<line x1="90.00" y1="318.80" x2="94.80" y2="318.80" stroke="#62b070" stroke-width="0.9"/>
<line x1="90.00" y1="306.80" x2="94.80" y2="306.80" stroke="#62b070" stroke-width="0.9"/>
<line x1="101.72" y1="308.50" x2="101.72" y2="320.50" stroke="#98d8a0" stroke-width="1"/>
<line x1="99.32" y1="320.50" x2="104.12" y2="320.50" stroke="#62b070" stroke-width="0.9"/>
<line x1="99.32" y1="308.50" x2="104.12" y2="308.50" stroke="#62b070" stroke-width="0.9"/>
<line x1="111.04" y1="305.60" x2="111.04" y2="319.60" stroke="#98d8a0" stroke-width="1"/>
<line x1="108.64" y1="319.60" x2="113.44" y2="319.60" stroke="#62b070" stroke-width="0.9"/>
<line x1="108.64" y1="305.60" x2="113.44" y2="305.60" stroke="#62b070" stroke-width="0.9"/>
<line x1="120.36" y1="304.00" x2="120.36" y2="318.00" stroke="#98d8a0" stroke-width="1"/>
<line x1="117.96" y1="318.00" x2="122.76" y2="318.00" stroke="#62b070" stroke-width="0.9"/>
<line x1="117.96" y1="304.00" x2="122.76" y2="304.00" stroke="#62b070" stroke-width="0.9"/>
<line x1="129.68" y1="303.00" x2="129.68" y2="319.00" stroke="#98d8a0" stroke-width="1"/>
<line x1="127.28" y1="319.00" x2="132.08" y2="319.00" stroke="#62b070" stroke-width="0.9"/>
<line x1="127.28" y1="303.00" x2="132.08" y2="303.00" stroke="#62b070" stroke-width="0.9"/>
<line x1="139.00" y1="301.30" x2="139.00" y2="319.30" stroke="#98d8a0" stroke-width="1"/>
<line x1="136.60" y1="319.30" x2="141.40" y2="319.30" stroke="#62b070" stroke-width="0.9"/>
<line x1="136.60" y1="301.30" x2="141.40" y2="301.30" stroke="#62b070" stroke-width="0.9"/>
<line x1="148.32" y1="299.00" x2="148.32" y2="317.00" stroke="#98d8a0" stroke-width="1"/>
<line x1="145.92" y1="317.00" x2="150.72" y2="317.00" stroke="#62b070" stroke-width="0.9"/>
<line x1="145.92" y1="299.00" x2="150.72" y2="299.00" stroke="#62b070" stroke-width="0.9"/>
<line x1="157.64" y1="298.50" x2="157.64" y2="318.50" stroke="#98d8a0" stroke-width="1"/>
<line x1="155.24" y1="318.50" x2="160.04" y2="318.50" stroke="#62b070" stroke-width="0.9"/>
<line x1="155.24" y1="298.50" x2="160.04" y2="298.50" stroke="#62b070" stroke-width="0.9"/>
<line x1="166.96" y1="296.50" x2="166.96" y2="318.50" stroke="#98d8a0" stroke-width="1"/>
<line x1="164.56" y1="318.50" x2="169.36" y2="318.50" stroke="#62b070" stroke-width="0.9"/>
<line x1="164.56" y1="296.50" x2="169.36" y2="296.50" stroke="#62b070" stroke-width="0.9"/>
<line x1="176.28" y1="291.80" x2="176.28" y2="315.80" stroke="#98d8a0" stroke-width="1"/>
<line x1="173.88" y1="315.80" x2="178.68" y2="315.80" stroke="#62b070" stroke-width="0.9"/>
<line x1="173.88" y1="291.80" x2="178.68" y2="291.80" stroke="#62b070" stroke-width="0.9"/>
<line x1="185.60" y1="290.40" x2="185.60" y2="316.40" stroke="#98d8a0" stroke-width="1"/>
<line x1="183.20" y1="316.40" x2="188.00" y2="316.40" stroke="#62b070" stroke-width="0.9"/>
<line x1="183.20" y1="290.40" x2="188.00" y2="290.40" stroke="#62b070" stroke-width="0.9"/>
<line x1="194.92" y1="287.30" x2="194.92" y2="315.30" stroke="#98d8a0" stroke-width="1"/>
<line x1="192.52" y1="315.30" x2="197.32" y2="315.30" stroke="#62b070" stroke-width="0.9"/>
<line x1="192.52" y1="287.30" x2="197.32" y2="287.30" stroke="#62b070" stroke-width="0.9"/>
<line x1="204.24" y1="285.70" x2="204.24" y2="315.70" stroke="#98d8a0" stroke-width="1"/>
<line x1="201.84" y1="315.70" x2="206.64" y2="315.70" stroke="#62b070" stroke-width="0.9"/>
<line x1="201.84" y1="285.70" x2="206.64" y2="285.70" stroke="#62b070" stroke-width="0.9"/>
<line x1="213.56" y1="280.60" x2="213.56" y2="314.60" stroke="#98d8a0" stroke-width="1"/>
<line x1="211.16" y1="314.60" x2="215.96" y2="314.60" stroke="#62b070" stroke-width="0.9"/>
<line x1="211.16" y1="280.60" x2="215.96" y2="280.60" stroke="#62b070" stroke-width="0.9"/>
<line x1="222.88" y1="274.40" x2="222.88" y2="312.40" stroke="#98d8a0" stroke-width="1"/>
<line x1="220.48" y1="312.40" x2="225.28" y2="312.40" stroke="#62b070" stroke-width="0.9"/>
<line x1="220.48" y1="274.40" x2="225.28" y2="274.40" stroke="#62b070" stroke-width="0.9"/>
<line x1="232.20" y1="272.60" x2="232.20" y2="308.60" stroke="#98d8a0" stroke-width="1"/>
<line x1="229.80" y1="308.60" x2="234.60" y2="308.60" stroke="#62b070" stroke-width="0.9"/>
<line x1="229.80" y1="272.60" x2="234.60" y2="272.60" stroke="#62b070" stroke-width="0.9"/>
<line x1="55.12" y1="315.00" x2="55.12" y2="321.00" stroke="#f0a0a0" stroke-width="1"/>
<line x1="52.72" y1="321.00" x2="57.52" y2="321.00" stroke="#d86060" stroke-width="0.9"/>
<line x1="52.72" y1="315.00" x2="57.52" y2="315.00" stroke="#d86060" stroke-width="0.9"/>
<line x1="64.44" y1="309.60" x2="64.44" y2="319.60" stroke="#f0a0a0" stroke-width="1"/>
<line x1="62.04" y1="319.60" x2="66.84" y2="319.60" stroke="#d86060" stroke-width="0.9"/>
<line x1="62.04" y1="309.60" x2="66.84" y2="309.60" stroke="#d86060" stroke-width="0.9"/>
<line x1="73.76" y1="308.30" x2="73.76" y2="320.30" stroke="#f0a0a0" stroke-width="1"/>
<line x1="71.36" y1="320.30" x2="76.16" y2="320.30" stroke="#d86060" stroke-width="0.9"/>
<line x1="71.36" y1="308.30" x2="76.16" y2="308.30" stroke="#d86060" stroke-width="0.9"/>
<line x1="83.08" y1="307.30" x2="83.08" y2="319.30" stroke="#f0a0a0" stroke-width="1"/>
<line x1="80.68" y1="319.30" x2="85.48" y2="319.30" stroke="#d86060" stroke-width="0.9"/>
<line x1="80.68" y1="307.30" x2="85.48" y2="307.30" stroke="#d86060" stroke-width="0.9"/>
<line x1="92.40" y1="303.00" x2="92.40" y2="319.00" stroke="#f0a0a0" stroke-width="1"/>
<line x1="90.00" y1="319.00" x2="94.80" y2="319.00" stroke="#d86060" stroke-width="0.9"/>
<line x1="90.00" y1="303.00" x2="94.80" y2="303.00" stroke="#d86060" stroke-width="0.9"/>
<line x1="101.72" y1="299.80" x2="101.72" y2="317.80" stroke="#f0a0a0" stroke-width="1"/>
<line x1="99.32" y1="317.80" x2="104.12" y2="317.80" stroke="#d86060" stroke-width="0.9"/>
<line x1="99.32" y1="299.80" x2="104.12" y2="299.80" stroke="#d86060" stroke-width="0.9"/>
<line x1="111.04" y1="301.00" x2="111.04" y2="319.00" stroke="#f0a0a0" stroke-width="1"/>
<line x1="108.64" y1="319.00" x2="113.44" y2="319.00" stroke="#d86060" stroke-width="0.9"/>
<line x1="108.64" y1="301.00" x2="113.44" y2="301.00" stroke="#d86060" stroke-width="0.9"/>
<line x1="120.36" y1="298.30" x2="120.36" y2="318.30" stroke="#f0a0a0" stroke-width="1"/>
<line x1="117.96" y1="318.30" x2="122.76" y2="318.30" stroke="#d86060" stroke-width="0.9"/>
<line x1="117.96" y1="298.30" x2="122.76" y2="298.30" stroke="#d86060" stroke-width="0.9"/>
<line x1="129.68" y1="297.00" x2="129.68" y2="317.00" stroke="#f0a0a0" stroke-width="1"/>
<line x1="127.28" y1="317.00" x2="132.08" y2="317.00" stroke="#d86060" stroke-width="0.9"/>
<line x1="127.28" y1="297.00" x2="132.08" y2="297.00" stroke="#d86060" stroke-width="0.9"/>
<line x1="139.00" y1="296.70" x2="139.00" y2="318.70" stroke="#f0a0a0" stroke-width="1"/>
<line x1="136.60" y1="318.70" x2="141.40" y2="318.70" stroke="#d86060" stroke-width="0.9"/>
<line x1="136.60" y1="296.70" x2="141.40" y2="296.70" stroke="#d86060" stroke-width="0.9"/>
<line x1="148.32" y1="291.00" x2="148.32" y2="315.00" stroke="#f0a0a0" stroke-width="1"/>
<line x1="145.92" y1="315.00" x2="150.72" y2="315.00" stroke="#d86060" stroke-width="0.9"/>
<line x1="145.92" y1="291.00" x2="150.72" y2="291.00" stroke="#d86060" stroke-width="0.9"/>
<line x1="157.64" y1="290.30" x2="157.64" y2="314.30" stroke="#f0a0a0" stroke-width="1"/>
<line x1="155.24" y1="314.30" x2="160.04" y2="314.30" stroke="#d86060" stroke-width="0.9"/>
<line x1="155.24" y1="290.30" x2="160.04" y2="290.30" stroke="#d86060" stroke-width="0.9"/>
<line x1="166.96" y1="285.80" x2="166.96" y2="311.80" stroke="#f0a0a0" stroke-width="1"/>
<line x1="164.56" y1="311.80" x2="169.36" y2="311.80" stroke="#d86060" stroke-width="0.9"/>
<line x1="164.56" y1="285.80" x2="169.36" y2="285.80" stroke="#d86060" stroke-width="0.9"/>
<line x1="176.28" y1="285.80" x2="176.28" y2="311.80" stroke="#f0a0a0" stroke-width="1"/>
<line x1="173.88" y1="311.80" x2="178.68" y2="311.80" stroke="#d86060" stroke-width="0.9"/>
<line x1="173.88" y1="285.80" x2="178.68" y2="285.80" stroke="#d86060" stroke-width="0.9"/>
<line x1="185.60" y1="281.50" x2="185.60" y2="309.50" stroke="#f0a0a0" stroke-width="1"/>
<line x1="183.20" y1="309.50" x2="188.00" y2="309.50" stroke="#d86060" stroke-width="0.9"/>
<line x1="183.20" y1="281.50" x2="188.00" y2="281.50" stroke="#d86060" stroke-width="0.9"/>
<line x1="194.92" y1="276.40" x2="194.92" y2="308.40" stroke="#f0a0a0" stroke-width="1"/>
<line x1="192.52" y1="308.40" x2="197.32" y2="308.40" stroke="#d86060" stroke-width="0.9"/>
<line x1="192.52" y1="276.40" x2="197.32" y2="276.40" stroke="#d86060" stroke-width="0.9"/>
<line x1="204.24" y1="276.00" x2="204.24" y2="304.00" stroke="#f0a0a0" stroke-width="1"/>
<line x1="201.84" y1="304.00" x2="206.64" y2="304.00" stroke="#d86060" stroke-width="0.9"/>
<line x1="201.84" y1="276.00" x2="206.64" y2="276.00" stroke="#d86060" stroke-width="0.9"/>
<line x1="213.56" y1="271.80" x2="213.56" y2="299.80" stroke="#f0a0a0" stroke-width="1"/>
<line x1="211.16" y1="299.80" x2="215.96" y2="299.80" stroke="#d86060" stroke-width="0.9"/>
<line x1="211.16" y1="271.80" x2="215.96" y2="271.80" stroke="#d86060" stroke-width="0.9"/>
<line x1="222.88" y1="270.30" x2="222.88" y2="296.30" stroke="#f0a0a0" stroke-width="1"/>
<line x1="220.48" y1="296.30" x2="225.28" y2="296.30" stroke="#d86060" stroke-width="0.9"/>
<line x1="220.48" y1="270.30" x2="225.28" y2="270.30" stroke="#d86060" stroke-width="0.9"/>
<line x1="232.20" y1="270.20" x2="232.20" y2="295.20" stroke="#f0a0a0" stroke-width="1"/>
<line x1="229.80" y1="295.20" x2="234.60" y2="295.20" stroke="#d86060" stroke-width="0.9"/>
<line x1="229.80" y1="270.20" x2="234.60" y2="270.20" stroke="#d86060" stroke-width="0.9"/>
<polyline points="45.80,319.80 55.12,319.50 64.44,318.80 73.76,317.50 83.08,315.50 92.40,312.80 101.72,314.50 111.04,312.60 120.36,311.00 129.68,311.00 139.00,310.30 148.32,308.00 157.64,308.50 166.96,307.50 176.28,303.80 185.60,303.40 194.92,301.30 204.24,300.70 213.56,297.60 222.88,293.40 232.20,290.60" fill="none" stroke="#2ea048" stroke-width="0.9"/>
<polyline points="45.80,319.80 55.12,318.00 64.44,314.60 73.76,314.30 83.08,313.30 92.40,311.00 101.72,308.80 111.04,310.00 120.36,308.30 129.68,307.00 139.00,307.70 148.32,303.00 157.64,302.30 166.96,298.80 176.28,298.80 185.60,295.50 194.92,292.40 204.24,290.00 213.56,285.80 222.88,283.30 232.20,282.70" fill="none" stroke="#e0202c" stroke-width="0.9"/>
<polyline points="45.80,319.80 55.12,315.00 64.44,311.70 73.76,307.70 83.08,303.00 92.40,298.40 101.72,294.70 111.04,290.80 120.36,284.30 129.68,285.10 139.00,277.20 148.32,275.90 157.64,274.20 166.96,265.50 176.28,260.60 185.60,256.70 194.92,252.00 204.24,248.10 213.56,252.60 222.88,244.50 232.20,255.80" fill="none" stroke="#2e42a0" stroke-width="0.9"/>
<path d="M45.80 317.30L48.42 321.68L43.17 321.68Z" fill="#2ea048"/>
<path d="M55.12 317.00L57.74 321.38L52.49 321.38Z" fill="#2ea048"/>
<path d="M64.44 316.30L67.06 320.68L61.81 320.68Z" fill="#2ea048"/>
<path d="M73.76 315.00L76.38 319.38L71.13 319.38Z" fill="#2ea048"/>
<path d="M83.08 313.00L85.70 317.38L80.45 317.38Z" fill="#2ea048"/>
<path d="M92.40 310.30L95.03 314.68L89.78 314.68Z" fill="#2ea048"/>
<path d="M101.72 312.00L104.34 316.38L99.09 316.38Z" fill="#2ea048"/>
<path d="M111.04 310.10L113.67 314.48L108.42 314.48Z" fill="#2ea048"/>
<path d="M120.36 308.50L122.98 312.88L117.73 312.88Z" fill="#2ea048"/>
<path d="M129.68 308.50L132.31 312.88L127.06 312.88Z" fill="#2ea048"/>
<path d="M139.00 307.80L141.62 312.18L136.38 312.18Z" fill="#2ea048"/>
<path d="M148.32 305.50L150.94 309.88L145.69 309.88Z" fill="#2ea048"/>
<path d="M157.64 306.00L160.26 310.38L155.01 310.38Z" fill="#2ea048"/>
<path d="M166.96 305.00L169.58 309.38L164.33 309.38Z" fill="#2ea048"/>
<path d="M176.28 301.30L178.91 305.68L173.66 305.68Z" fill="#2ea048"/>
<path d="M185.60 300.90L188.23 305.27L182.98 305.27Z" fill="#2ea048"/>
<path d="M194.92 298.80L197.55 303.18L192.30 303.18Z" fill="#2ea048"/>
<path d="M204.24 298.20L206.87 302.57L201.62 302.57Z" fill="#2ea048"/>
<path d="M213.56 295.10L216.19 299.48L210.94 299.48Z" fill="#2ea048"/>
<path d="M222.88 290.90L225.50 295.27L220.25 295.27Z" fill="#2ea048"/>
<path d="M232.20 288.10L234.82 292.48L229.57 292.48Z" fill="#2ea048"/>
<rect x="43.50" y="317.50" width="4.6" height="4.6" fill="#e0202c"/>
<rect x="52.82" y="315.70" width="4.6" height="4.6" fill="#e0202c"/>
<rect x="62.14" y="312.30" width="4.6" height="4.6" fill="#e0202c"/>
<rect x="71.46" y="312.00" width="4.6" height="4.6" fill="#e0202c"/>
<rect x="80.78" y="311.00" width="4.6" height="4.6" fill="#e0202c"/>
<rect x="90.10" y="308.70" width="4.6" height="4.6" fill="#e0202c"/>
<rect x="99.42" y="306.50" width="4.6" height="4.6" fill="#e0202c"/>
<rect x="108.74" y="307.70" width="4.6" height="4.6" fill="#e0202c"/>
<rect x="118.06" y="306.00" width="4.6" height="4.6" fill="#e0202c"/>
<rect x="127.38" y="304.70" width="4.6" height="4.6" fill="#e0202c"/>
<rect x="136.70" y="305.40" width="4.6" height="4.6" fill="#e0202c"/>
<rect x="146.02" y="300.70" width="4.6" height="4.6" fill="#e0202c"/>
<rect x="155.34" y="300.00" width="4.6" height="4.6" fill="#e0202c"/>
<rect x="164.66" y="296.50" width="4.6" height="4.6" fill="#e0202c"/>
<rect x="173.98" y="296.50" width="4.6" height="4.6" fill="#e0202c"/>
<rect x="183.30" y="293.20" width="4.6" height="4.6" fill="#e0202c"/>
<rect x="192.62" y="290.10" width="4.6" height="4.6" fill="#e0202c"/>
<rect x="201.94" y="287.70" width="4.6" height="4.6" fill="#e0202c"/>
<rect x="211.26" y="283.50" width="4.6" height="4.6" fill="#e0202c"/>
<rect x="220.58" y="281.00" width="4.6" height="4.6" fill="#e0202c"/>
<rect x="229.90" y="280.40" width="4.6" height="4.6" fill="#e0202c"/>
<circle cx="45.80" cy="319.80" r="2.6" fill="#2e42a0"/>
<circle cx="55.12" cy="315.00" r="2.6" fill="#2e42a0"/>
<circle cx="64.44" cy="311.70" r="2.6" fill="#2e42a0"/>
<circle cx="73.76" cy="307.70" r="2.6" fill="#2e42a0"/>
<circle cx="83.08" cy="303.00" r="2.6" fill="#2e42a0"/>
<circle cx="92.40" cy="298.40" r="2.6" fill="#2e42a0"/>
<circle cx="101.72" cy="294.70" r="2.6" fill="#2e42a0"/>
<circle cx="111.04" cy="290.80" r="2.6" fill="#2e42a0"/>
<circle cx="120.36" cy="284.30" r="2.6" fill="#2e42a0"/>
<circle cx="129.68" cy="285.10" r="2.6" fill="#2e42a0"/>
<circle cx="139.00" cy="277.20" r="2.6" fill="#2e42a0"/>
<circle cx="148.32" cy="275.90" r="2.6" fill="#2e42a0"/>
<circle cx="157.64" cy="274.20" r="2.6" fill="#2e42a0"/>
<circle cx="166.96" cy="265.50" r="2.6" fill="#2e42a0"/>
<circle cx="176.28" cy="260.60" r="2.6" fill="#2e42a0"/>
<circle cx="185.60" cy="256.70" r="2.6" fill="#2e42a0"/>
<circle cx="194.92" cy="252.00" r="2.6" fill="#2e42a0"/>
<circle cx="204.24" cy="248.10" r="2.6" fill="#2e42a0"/>
<circle cx="213.56" cy="252.60" r="2.6" fill="#2e42a0"/>
<circle cx="222.88" cy="244.50" r="2.6" fill="#2e42a0"/>
<circle cx="232.20" cy="255.80" r="2.6" fill="#2e42a0"/>
<circle cx="54.00" cy="217.50" r="2.4" fill="#2e42a0"/>
<rect x="51.80" y="223.10" width="4.4" height="4.4" fill="#e0202c"/>
<path d="M54.00 229.90L56.84 234.62L51.16 234.62Z" fill="#2ea048"/>
<text x="59.7" y="219.90" font-size="6.52" font-family="'Liberation Sans', sans-serif" font-weight="bold">PBS:PBS</text>
<text x="59.7" y="227.60" font-size="6.52" font-family="'Liberation Sans', sans-serif" font-weight="bold">TvcMMAE:PBS</text>
<text x="59.7" y="235.10" font-size="6.52" font-family="'Liberation Sans', sans-serif" font-weight="bold">TvcMMAE:12x ABC3315</text>
<text transform="translate(274.4 197.8) scale(1.16 1)" font-size="12.1" font-family="'Liberation Sans', sans-serif" font-weight="bold">D</text>
<defs><filter id="spk" x="-5%" y="-5%" width="110%" height="110%"><feTurbulence type="turbulence" baseFrequency="0.5" numOctaves="2" seed="5" result="t"/><feDisplacementMap in="SourceGraphic" in2="t" scale="2" xChannelSelector="R" yChannelSelector="G" result="d"/><feTurbulence type="fractalNoise" baseFrequency="0.8" numOctaves="1" seed="3" result="n"/><feColorMatrix in="n" type="matrix" values="0 0 0 0 0.92  0 0 0 0 0.98  0 0 0 0 1  0 0 0 -3.0 1.6" result="w"/><feComposite in="w" in2="d" operator="in" result="wc"/><feMerge><feMergeNode in="d"/><feMergeNode in="wc"/></feMerge></filter><filter id="rag" x="-5%" y="-5%" width="110%" height="110%"><feTurbulence type="turbulence" baseFrequency="0.5" numOctaves="2" seed="5" result="t"/><feDisplacementMap in="SourceGraphic" in2="t" scale="5" xChannelSelector="R" yChannelSelector="G"/></filter><filter id="mot" x="0" y="0" width="1" height="1"><feTurbulence type="fractalNoise" baseFrequency="0.09" numOctaves="3" seed="7" result="n"/><feColorMatrix in="n" type="matrix" values="0 0 0 0 0.86  0 0 0 0 0.52  0 0 0 0 0.78  -2.6 0 0 0 1.2" result="w"/><feComposite in="w" in2="SourceGraphic" operator="in" result="wc"/><feMerge><feMergeNode in="SourceGraphic"/><feMergeNode in="wc"/></feMerge></filter><filter id="rimf" x="-10%" y="-5%" width="120%" height="110%"><feTurbulence type="fractalNoise" baseFrequency="0.7" numOctaves="1" seed="9" result="n"/><feColorMatrix in="n" type="matrix" values="0 0 0 0 0.5  0 0 0 0 0.82  0 0 0 0 0.9  0 0 0 -6 3.2" result="w"/><feComposite in="w" in2="SourceGraphic" operator="in" result="wc"/><feMerge><feMergeNode in="SourceGraphic"/><feMergeNode in="wc"/></feMerge></filter><filter id="bl1"><feGaussianBlur stdDeviation="0.5"/></filter></defs>
<polygon points="408,199 416,203 424,211 430,221 434,233 437,248 440,262 443,277 446,292 447,305 447,318 444,328 438,334 436,330 441,318 441.6,308 437,300 432,292.6 430,277.1 428.1,257.8 426.2,238.6 422.4,219.3 416,209 410,203.8" fill="#f6fcfd" filter="url(#rimf)"/>
<polygon points="294.6,262 296,259 299.3,248.1 302.6,237.1 308.1,226.1 315.9,217.2 324.7,209.5 335.7,206.2 351.1,204.5 365,202.3 372,199.5 376.2,197.9 388.5,196.8 400.8,199.2 408,203.5 413,209 419,219 424.5,236 427.5,256 430,277.1 432,292.6 437,300 441.6,308 442,318 439,326 433,331 426,333.5 417.3,335 401.9,338.5 386.5,344.5 377.3,347.5 361.9,348.3 346.5,346.8 332,344.5 316,340 305,335 297,329 291.5,320.4 289,307.4 289.3,294 291.3,281 293.5,268" fill="none" stroke="#9ad8e4" stroke-width="8.6" stroke-linejoin="round"/>
<polygon points="294.6,262 296,259 299.3,248.1 302.6,237.1 308.1,226.1 315.9,217.2 324.7,209.5 335.7,206.2 351.1,204.5 365,202.3 372,199.5 376.2,197.9 388.5,196.8 400.8,199.2 408,203.5 413,209 419,219 424.5,236 427.5,256 430,277.1 432,292.6 437,300 441.6,308 442,318 439,326 433,331 426,333.5 417.3,335 401.9,338.5 386.5,344.5 377.3,347.5 361.9,348.3 346.5,346.8 332,344.5 316,340 305,335 297,329 291.5,320.4 289,307.4 289.3,294 291.3,281 293.5,268" fill="none" stroke="#eef8fa" stroke-width="6.8" stroke-linejoin="round"/>
<polygon points="294.6,262 296,259 299.3,248.1 302.6,237.1 308.1,226.1 315.9,217.2 324.7,209.5 335.7,206.2 351.1,204.5 365,202.3 372,199.5 376.2,197.9 388.5,196.8 400.8,199.2 408,203.5 413,209 419,219 424.5,236 427.5,256 430,277.1 432,292.6 437,300 441.6,308 442,318 439,326 433,331 426,333.5 417.3,335 401.9,338.5 386.5,344.5 377.3,347.5 361.9,348.3 346.5,346.8 332,344.5 316,340 305,335 297,329 291.5,320.4 289,307.4 289.3,294 291.3,281 293.5,268" fill="#c24ea6" stroke="#b8509f" stroke-width="1.2" stroke-linejoin="round" filter="url(#mot)"/>
<g fill="#3c3c98"><circle cx="318.3" cy="242.3" r="3.6"/><circle cx="318.8" cy="239.3" r="3.0"/><circle cx="308.1" cy="239.5" r="3.1"/><circle cx="331.2" cy="215.3" r="2.4"/><circle cx="304.5" cy="256.8" r="3.2"/><circle cx="324.5" cy="218.9" r="1.8"/><circle cx="318.5" cy="225.9" r="3.8"/><circle cx="328.0" cy="228.1" r="2.3"/><circle cx="330.2" cy="233.0" r="3.5"/><circle cx="309.1" cy="262.6" r="2.7"/><circle cx="303.9" cy="246.3" r="1.7"/><circle cx="329.9" cy="216.6" r="2.3"/><circle cx="331.4" cy="220.1" r="2.9"/><circle cx="318.1" cy="220.9" r="1.4"/><circle cx="306.1" cy="247.1" r="2.0"/><circle cx="317.1" cy="222.1" r="1.4"/><circle cx="312.7" cy="261.1" r="1.6"/><circle cx="325.5" cy="215.6" r="3.8"/><circle cx="330.5" cy="228.9" r="2.4"/><circle cx="323.2" cy="223.9" r="3.0"/><circle cx="315.2" cy="236.1" r="3.7"/><circle cx="319.5" cy="243.1" r="3.3"/><circle cx="308.6" cy="264.9" r="2.7"/><circle cx="324.0" cy="234.2" r="2.0"/><circle cx="310.2" cy="250.7" r="2.3"/><circle cx="328.5" cy="213.8" r="2.3"/><circle cx="324.4" cy="226.1" r="3.6"/><circle cx="311.3" cy="235.7" r="1.9"/><circle cx="322.8" cy="217.4" r="2.5"/><circle cx="323.3" cy="217.9" r="1.9"/><circle cx="301.8" cy="262.6" r="2.0"/><circle cx="325.3" cy="237.8" r="3.3"/><circle cx="314.5" cy="249.5" r="2.0"/><circle cx="315.6" cy="243.6" r="3.0"/><circle cx="304.1" cy="246.9" r="2.1"/><circle cx="323.2" cy="235.4" r="3.5"/><circle cx="304.3" cy="253.3" r="1.9"/><circle cx="323.9" cy="237.7" r="2.3"/><circle cx="327.6" cy="238.6" r="2.7"/><circle cx="336.1" cy="224.6" r="1.8"/><circle cx="312.5" cy="249.1" r="2.2"/><circle cx="307.5" cy="262.3" r="3.1"/><circle cx="313.5" cy="248.4" r="2.2"/><circle cx="315.7" cy="243.6" r="2.4"/><circle cx="318.2" cy="225.8" r="2.2"/><circle cx="316.8" cy="246.1" r="2.6"/><circle cx="334.3" cy="212.2" r="2.1"/><circle cx="322.8" cy="227.7" r="3.4"/><circle cx="332.6" cy="223.6" r="2.1"/><circle cx="318.1" cy="246.3" r="1.6"/><circle cx="327.1" cy="221.4" r="2.8"/><circle cx="314.2" cy="250.2" r="1.9"/><circle cx="335.5" cy="214.9" r="2.2"/><circle cx="328.6" cy="217.3" r="2.7"/><circle cx="315.4" cy="242.8" r="3.6"/><circle cx="308.9" cy="251.7" r="3.4"/><circle cx="309.2" cy="262.0" r="3.8"/><circle cx="331.1" cy="228.4" r="3.6"/><circle cx="333.6" cy="230.0" r="2.0"/><circle cx="317.9" cy="241.7" r="3.3"/><circle cx="331.8" cy="213.5" r="3.4"/><circle cx="331.0" cy="217.9" r="2.1"/><circle cx="309.5" cy="240.3" r="2.4"/><circle cx="322.4" cy="227.9" r="2.6"/><circle cx="309.0" cy="259.1" r="3.7"/><circle cx="321.0" cy="243.0" r="2.2"/><circle cx="321.5" cy="239.0" r="3.0"/><circle cx="320.7" cy="233.0" r="3.4"/><circle cx="322.5" cy="238.3" r="3.2"/><circle cx="336.2" cy="225.4" r="2.0"/><circle cx="319.2" cy="228.2" r="2.2"/><circle cx="306.0" cy="255.0" r="1.8"/><circle cx="327.2" cy="228.5" r="2.5"/><circle cx="324.7" cy="215.9" r="3.3"/><circle cx="321.3" cy="235.1" r="2.6"/><circle cx="316.8" cy="240.5" r="2.1"/><circle cx="308.9" cy="246.4" r="3.1"/><circle cx="309.9" cy="252.8" r="3.4"/><circle cx="335.4" cy="228.1" r="1.7"/><circle cx="336.2" cy="222.5" r="3.1"/><circle cx="334.8" cy="217.6" r="2.3"/><circle cx="328.7" cy="224.9" r="2.0"/><circle cx="332.7" cy="234.3" r="1.9"/><circle cx="308.7" cy="249.4" r="3.6"/><circle cx="322.1" cy="239.7" r="2.9"/><circle cx="308.8" cy="258.5" r="3.8"/><circle cx="336.3" cy="215.3" r="1.7"/><circle cx="330.2" cy="228.8" r="2.7"/><circle cx="320.7" cy="234.7" r="3.0"/><circle cx="333.2" cy="220.3" r="2.7"/><circle cx="329.2" cy="233.3" r="2.2"/><circle cx="307.4" cy="239.5" r="1.8"/><circle cx="325.0" cy="233.3" r="3.0"/><circle cx="331.7" cy="224.8" r="3.6"/><circle cx="332.1" cy="233.3" r="2.8"/><circle cx="314.6" cy="246.8" r="3.0"/><circle cx="309.9" cy="264.6" r="2.3"/><circle cx="313.9" cy="248.1" r="2.9"/><circle cx="321.4" cy="232.4" r="3.8"/><circle cx="329.2" cy="224.7" r="2.6"/><circle cx="310.6" cy="262.3" r="2.9"/><circle cx="304.0" cy="244.5" r="1.4"/><circle cx="302.8" cy="263.7" r="2.1"/><circle cx="303.3" cy="264.6" r="2.1"/><circle cx="346.8" cy="222.5" r="3.1"/><circle cx="352.0" cy="222.5" r="3.2"/><circle cx="348.5" cy="227.2" r="1.8"/><circle cx="343.6" cy="228.3" r="2.3"/><circle cx="356.3" cy="226.9" r="3.8"/><circle cx="358.7" cy="230.2" r="2.0"/><circle cx="353.6" cy="226.6" r="2.2"/><circle cx="340.4" cy="226.3" r="3.1"/><circle cx="349.2" cy="221.9" r="3.0"/><circle cx="362.3" cy="233.4" r="2.3"/><circle cx="357.9" cy="230.7" r="2.5"/><circle cx="342.1" cy="221.6" r="3.8"/><circle cx="361.4" cy="236.9" r="1.9"/><circle cx="338.7" cy="222.2" r="2.2"/><circle cx="353.6" cy="218.1" r="2.1"/><circle cx="355.0" cy="228.9" r="3.1"/><circle cx="347.0" cy="227.2" r="1.9"/><circle cx="342.7" cy="225.9" r="2.3"/><circle cx="358.6" cy="224.5" r="3.1"/><circle cx="361.5" cy="225.9" r="2.0"/><circle cx="352.1" cy="227.3" r="3.2"/><circle cx="339.1" cy="220.8" r="2.2"/><circle cx="339.3" cy="223.0" r="3.0"/><circle cx="355.5" cy="222.4" r="2.1"/><circle cx="346.8" cy="218.4" r="3.2"/><circle cx="345.2" cy="223.3" r="2.6"/><circle cx="361.9" cy="237.3" r="1.7"/><circle cx="346.7" cy="224.4" r="2.5"/><circle cx="347.6" cy="225.0" r="2.2"/><circle cx="352.0" cy="219.9" r="3.3"/><circle cx="362.7" cy="231.4" r="1.8"/><circle cx="353.9" cy="219.1" r="3.0"/><circle cx="354.3" cy="221.5" r="2.2"/><circle cx="357.4" cy="228.2" r="3.3"/><circle cx="347.6" cy="223.8" r="3.7"/><circle cx="354.9" cy="227.5" r="2.9"/><circle cx="397.9" cy="270.1" r="3.6"/><circle cx="382.0" cy="281.7" r="3.1"/><circle cx="387.8" cy="270.2" r="3.4"/><circle cx="382.6" cy="241.7" r="2.1"/><circle cx="380.3" cy="216.8" r="2.2"/><circle cx="382.8" cy="229.1" r="3.7"/><circle cx="367.0" cy="264.1" r="3.4"/><circle cx="370.3" cy="206.4" r="2.7"/><circle cx="390.9" cy="289.9" r="1.9"/><circle cx="372.2" cy="223.5" r="3.2"/><circle cx="391.4" cy="222.4" r="2.2"/><circle cx="375.4" cy="217.3" r="3.3"/><circle cx="377.0" cy="254.3" r="3.4"/><circle cx="385.6" cy="226.0" r="3.6"/><circle cx="389.0" cy="294.6" r="2.8"/><circle cx="372.4" cy="205.2" r="2.9"/><circle cx="402.0" cy="238.2" r="2.9"/><circle cx="387.4" cy="227.3" r="3.8"/><circle cx="394.6" cy="223.7" r="1.8"/><circle cx="385.2" cy="236.9" r="3.4"/><circle cx="397.5" cy="260.0" r="2.1"/><circle cx="369.1" cy="232.0" r="1.8"/><circle cx="374.7" cy="253.0" r="2.1"/><circle cx="403.0" cy="208.4" r="2.3"/><circle cx="397.6" cy="209.9" r="2.8"/><circle cx="385.0" cy="294.4" r="3.0"/><circle cx="404.8" cy="230.2" r="2.7"/><circle cx="382.4" cy="290.6" r="2.0"/><circle cx="403.2" cy="220.8" r="2.9"/><circle cx="387.9" cy="215.8" r="3.5"/><circle cx="377.0" cy="230.9" r="2.0"/><circle cx="376.7" cy="246.3" r="3.2"/><circle cx="379.4" cy="268.0" r="2.0"/><circle cx="381.2" cy="245.8" r="3.7"/><circle cx="397.3" cy="223.7" r="2.9"/><circle cx="384.5" cy="201.3" r="1.8"/><circle cx="401.9" cy="220.7" r="3.0"/><circle cx="375.9" cy="237.3" r="2.9"/><circle cx="376.3" cy="233.5" r="2.6"/><circle cx="395.1" cy="225.6" r="2.2"/><circle cx="398.4" cy="232.7" r="3.7"/><circle cx="389.8" cy="271.6" r="2.5"/><circle cx="403.3" cy="209.4" r="2.1"/><circle cx="365.9" cy="267.1" r="3.2"/><circle cx="370.3" cy="239.9" r="3.5"/><circle cx="391.3" cy="209.2" r="2.3"/><circle cx="369.1" cy="212.5" r="2.3"/><circle cx="382.9" cy="250.7" r="3.1"/><circle cx="400.2" cy="281.2" r="2.6"/><circle cx="378.0" cy="240.9" r="1.8"/><circle cx="381.5" cy="269.2" r="3.8"/><circle cx="392.1" cy="202.1" r="2.5"/><circle cx="378.6" cy="264.4" r="2.0"/><circle cx="380.4" cy="250.5" r="3.4"/><circle cx="369.2" cy="275.8" r="3.6"/><circle cx="389.1" cy="235.0" r="2.8"/><circle cx="368.3" cy="270.6" r="3.8"/><circle cx="387.4" cy="270.8" r="3.5"/><circle cx="371.2" cy="293.4" r="1.8"/><circle cx="371.2" cy="208.5" r="2.3"/><circle cx="390.5" cy="269.0" r="2.5"/><circle cx="384.7" cy="212.5" r="3.7"/><circle cx="368.0" cy="289.3" r="2.9"/><circle cx="389.7" cy="255.5" r="2.3"/><circle cx="367.4" cy="281.5" r="2.4"/><circle cx="406.8" cy="224.0" r="2.5"/><circle cx="403.5" cy="218.6" r="2.9"/><circle cx="376.8" cy="266.4" r="3.3"/><circle cx="380.6" cy="258.6" r="3.4"/><circle cx="385.0" cy="214.4" r="2.6"/><circle cx="390.1" cy="217.4" r="2.8"/><circle cx="374.5" cy="256.3" r="2.5"/><circle cx="393.8" cy="204.0" r="3.1"/><circle cx="391.7" cy="246.6" r="2.6"/><circle cx="392.9" cy="268.2" r="3.3"/><circle cx="399.4" cy="248.2" r="3.0"/><circle cx="382.0" cy="243.0" r="2.9"/><circle cx="387.9" cy="242.9" r="3.6"/><circle cx="377.5" cy="205.7" r="3.3"/><circle cx="391.6" cy="274.4" r="2.4"/><circle cx="391.4" cy="207.2" r="2.0"/><circle cx="383.9" cy="249.8" r="2.6"/><circle cx="363.8" cy="268.7" r="2.9"/><circle cx="373.3" cy="230.5" r="2.6"/><circle cx="373.1" cy="207.0" r="3.6"/><circle cx="402.2" cy="222.1" r="3.3"/><circle cx="390.0" cy="289.3" r="2.0"/><circle cx="401.5" cy="212.5" r="2.9"/><circle cx="373.5" cy="229.8" r="2.4"/><circle cx="402.7" cy="239.4" r="2.0"/><circle cx="391.0" cy="204.8" r="1.9"/><circle cx="386.5" cy="292.3" r="3.8"/><circle cx="385.2" cy="220.6" r="2.4"/><circle cx="371.1" cy="282.8" r="2.5"/><circle cx="385.2" cy="217.2" r="3.6"/><circle cx="393.4" cy="219.2" r="3.6"/><circle cx="398.1" cy="231.1" r="3.6"/><circle cx="368.0" cy="268.9" r="3.7"/><circle cx="383.8" cy="208.1" r="2.2"/><circle cx="376.8" cy="270.3" r="2.2"/><circle cx="370.3" cy="223.5" r="2.9"/><circle cx="401.4" cy="237.0" r="3.1"/><circle cx="372.8" cy="229.9" r="3.7"/><circle cx="395.1" cy="227.6" r="3.1"/><circle cx="383.6" cy="252.3" r="2.9"/><circle cx="363.4" cy="259.4" r="2.4"/><circle cx="373.9" cy="279.4" r="2.0"/><circle cx="375.6" cy="274.7" r="2.3"/><circle cx="375.3" cy="254.3" r="2.2"/><circle cx="399.4" cy="238.2" r="3.7"/><circle cx="386.6" cy="218.0" r="2.9"/><circle cx="394.0" cy="235.7" r="3.1"/><circle cx="386.9" cy="283.6" r="3.2"/><circle cx="387.6" cy="294.0" r="2.1"/><circle cx="400.9" cy="216.6" r="3.0"/><circle cx="373.1" cy="243.7" r="3.3"/><circle cx="401.2" cy="278.2" r="2.3"/><circle cx="386.0" cy="222.1" r="3.0"/><circle cx="386.5" cy="203.8" r="3.0"/><circle cx="397.6" cy="256.7" r="3.5"/><circle cx="370.3" cy="215.3" r="1.8"/><circle cx="386.4" cy="243.1" r="2.7"/><circle cx="374.5" cy="279.0" r="1.9"/><circle cx="388.8" cy="278.3" r="2.3"/><circle cx="392.8" cy="252.1" r="2.3"/><circle cx="391.1" cy="209.0" r="3.4"/><circle cx="369.9" cy="225.4" r="2.1"/><circle cx="396.3" cy="282.1" r="3.4"/><circle cx="379.7" cy="221.6" r="3.7"/><circle cx="368.5" cy="245.1" r="3.3"/><circle cx="406.5" cy="214.2" r="2.6"/><circle cx="376.3" cy="242.1" r="2.0"/><circle cx="400.0" cy="272.6" r="2.3"/><circle cx="374.0" cy="254.7" r="2.3"/><circle cx="384.6" cy="292.1" r="2.5"/><circle cx="392.3" cy="204.2" r="2.6"/><circle cx="394.2" cy="206.1" r="2.5"/><circle cx="396.5" cy="285.4" r="3.0"/><circle cx="381.1" cy="283.3" r="2.6"/><circle cx="400.9" cy="221.5" r="2.5"/><circle cx="370.5" cy="254.4" r="2.1"/><circle cx="371.5" cy="221.4" r="2.7"/><circle cx="376.8" cy="244.3" r="3.8"/><circle cx="395.7" cy="285.3" r="2.2"/><circle cx="380.6" cy="207.5" r="3.2"/><circle cx="379.6" cy="227.3" r="1.8"/><circle cx="370.4" cy="226.1" r="2.6"/><circle cx="374.8" cy="235.9" r="2.1"/><circle cx="400.2" cy="271.6" r="3.3"/><circle cx="380.7" cy="208.5" r="3.6"/><circle cx="377.7" cy="276.2" r="2.8"/><circle cx="373.3" cy="204.3" r="2.1"/><circle cx="391.5" cy="203.4" r="2.4"/><circle cx="382.7" cy="253.9" r="2.1"/><circle cx="397.1" cy="225.9" r="3.3"/><circle cx="395.1" cy="214.8" r="2.2"/><circle cx="375.4" cy="270.5" r="2.6"/><circle cx="380.8" cy="285.6" r="2.3"/><circle cx="376.0" cy="234.3" r="2.2"/><circle cx="393.3" cy="256.0" r="3.4"/><circle cx="395.3" cy="290.8" r="1.7"/><circle cx="396.2" cy="266.0" r="3.7"/><circle cx="405.4" cy="223.4" r="3.1"/><circle cx="381.1" cy="206.2" r="2.6"/><circle cx="377.8" cy="249.3" r="2.4"/><circle cx="369.2" cy="239.9" r="2.5"/><circle cx="369.6" cy="265.8" r="2.3"/><circle cx="382.6" cy="215.2" r="3.0"/><circle cx="396.9" cy="254.8" r="3.2"/><circle cx="379.7" cy="206.5" r="2.6"/><circle cx="391.0" cy="246.5" r="2.5"/><circle cx="378.8" cy="288.1" r="2.9"/><circle cx="374.5" cy="266.1" r="2.2"/><circle cx="385.0" cy="260.9" r="3.7"/><circle cx="379.6" cy="257.1" r="3.7"/><circle cx="400.4" cy="262.1" r="1.4"/><circle cx="382.1" cy="241.2" r="2.4"/><circle cx="380.6" cy="289.9" r="1.9"/><circle cx="368.0" cy="250.2" r="2.4"/><circle cx="379.5" cy="296.5" r="1.8"/><circle cx="370.9" cy="222.8" r="3.2"/><circle cx="388.8" cy="239.1" r="2.3"/><circle cx="386.3" cy="264.3" r="2.9"/><circle cx="392.9" cy="255.5" r="3.5"/><circle cx="378.8" cy="287.6" r="2.4"/><circle cx="397.6" cy="268.8" r="3.2"/><circle cx="369.2" cy="261.5" r="2.8"/><circle cx="389.9" cy="236.7" r="2.4"/><circle cx="399.3" cy="252.9" r="2.3"/><circle cx="373.8" cy="232.3" r="2.2"/><circle cx="387.3" cy="212.7" r="1.9"/><circle cx="397.0" cy="211.4" r="2.7"/><circle cx="400.5" cy="247.6" r="2.0"/><circle cx="387.0" cy="278.8" r="2.6"/><circle cx="397.6" cy="225.1" r="3.2"/><circle cx="377.8" cy="233.2" r="3.3"/><circle cx="390.0" cy="241.7" r="3.2"/><circle cx="392.9" cy="282.2" r="3.4"/><circle cx="395.2" cy="223.1" r="2.2"/><circle cx="367.9" cy="268.0" r="2.6"/><circle cx="393.3" cy="239.4" r="3.7"/><circle cx="397.5" cy="212.0" r="1.9"/><circle cx="375.7" cy="272.3" r="3.8"/><circle cx="385.7" cy="237.1" r="2.4"/><circle cx="401.9" cy="282.9" r="2.2"/><circle cx="381.1" cy="261.1" r="3.3"/><circle cx="396.5" cy="254.1" r="3.4"/><circle cx="368.6" cy="217.5" r="1.6"/><circle cx="386.0" cy="212.2" r="2.4"/><circle cx="368.4" cy="261.9" r="2.3"/><circle cx="372.7" cy="247.8" r="2.5"/><circle cx="374.3" cy="205.3" r="1.9"/><circle cx="371.4" cy="285.7" r="2.8"/><circle cx="382.2" cy="279.8" r="2.6"/><circle cx="364.0" cy="254.5" r="1.7"/><circle cx="392.9" cy="227.6" r="3.7"/><circle cx="383.7" cy="282.4" r="3.2"/><circle cx="369.7" cy="212.0" r="1.9"/><circle cx="379.4" cy="274.5" r="2.4"/><circle cx="387.3" cy="201.3" r="2.0"/><circle cx="388.0" cy="280.1" r="3.4"/><circle cx="398.6" cy="239.6" r="3.4"/><circle cx="397.1" cy="225.0" r="3.6"/><circle cx="372.7" cy="238.6" r="2.5"/><circle cx="394.6" cy="280.2" r="2.5"/><circle cx="393.6" cy="235.2" r="2.4"/><circle cx="398.9" cy="221.1" r="3.3"/><circle cx="389.0" cy="267.3" r="2.2"/><circle cx="379.0" cy="242.7" r="1.8"/><circle cx="386.7" cy="240.0" r="2.4"/><circle cx="388.5" cy="294.1" r="2.2"/><circle cx="399.6" cy="211.0" r="3.8"/><circle cx="383.0" cy="295.1" r="2.2"/><circle cx="381.9" cy="269.8" r="2.2"/><circle cx="375.0" cy="267.0" r="3.7"/><circle cx="377.5" cy="218.4" r="2.5"/><circle cx="411.6" cy="214.9" r="1.5"/><circle cx="380.4" cy="263.7" r="2.2"/><circle cx="392.5" cy="287.7" r="3.5"/><circle cx="393.2" cy="250.0" r="2.9"/><circle cx="366.9" cy="282.8" r="3.2"/><circle cx="384.2" cy="265.8" r="2.6"/><circle cx="380.7" cy="223.0" r="3.0"/><circle cx="390.3" cy="251.1" r="1.9"/><circle cx="393.1" cy="244.3" r="3.0"/><circle cx="391.4" cy="292.1" r="2.1"/><circle cx="385.0" cy="298.1" r="1.6"/><circle cx="377.1" cy="272.9" r="3.8"/><circle cx="381.6" cy="285.7" r="2.1"/><circle cx="373.0" cy="283.1" r="3.1"/><circle cx="373.9" cy="279.8" r="2.7"/><circle cx="388.5" cy="285.6" r="2.2"/><circle cx="375.4" cy="263.7" r="1.9"/><circle cx="389.4" cy="277.8" r="2.8"/><circle cx="373.4" cy="279.1" r="3.5"/><circle cx="400.4" cy="254.4" r="1.5"/><circle cx="401.7" cy="215.2" r="2.5"/><circle cx="378.7" cy="285.5" r="3.5"/><circle cx="380.9" cy="283.9" r="3.0"/><circle cx="407.1" cy="207.4" r="2.4"/><circle cx="371.6" cy="262.3" r="3.6"/><circle cx="398.2" cy="219.7" r="3.1"/><circle cx="383.1" cy="201.8" r="2.2"/><circle cx="377.2" cy="262.3" r="2.4"/><circle cx="391.9" cy="268.7" r="2.2"/><circle cx="367.6" cy="268.6" r="2.7"/><circle cx="379.3" cy="219.6" r="3.8"/><circle cx="396.4" cy="272.8" r="2.5"/><circle cx="376.9" cy="240.5" r="2.1"/><circle cx="393.3" cy="242.1" r="3.4"/><circle cx="382.0" cy="245.3" r="2.8"/><circle cx="397.0" cy="223.5" r="3.0"/><circle cx="375.6" cy="286.3" r="2.4"/><circle cx="384.3" cy="292.3" r="2.6"/><circle cx="399.0" cy="259.5" r="2.5"/><circle cx="375.4" cy="243.7" r="3.7"/><circle cx="376.0" cy="268.7" r="3.1"/><circle cx="373.6" cy="240.8" r="2.1"/><circle cx="406.8" cy="225.1" r="2.3"/><circle cx="378.5" cy="281.1" r="3.5"/><circle cx="391.2" cy="254.1" r="2.0"/><circle cx="406.8" cy="209.0" r="2.5"/><circle cx="380.2" cy="271.5" r="3.1"/><circle cx="378.6" cy="288.7" r="3.7"/><circle cx="362.3" cy="262.7" r="1.8"/><circle cx="379.5" cy="246.1" r="2.4"/><circle cx="395.3" cy="259.9" r="3.7"/><circle cx="381.3" cy="281.9" r="3.1"/><circle cx="381.6" cy="264.9" r="2.2"/><circle cx="380.0" cy="214.4" r="2.6"/><circle cx="398.9" cy="208.5" r="2.1"/><circle cx="394.2" cy="261.7" r="3.3"/><circle cx="374.0" cy="280.2" r="3.3"/><circle cx="400.7" cy="212.1" r="2.7"/><circle cx="388.4" cy="252.9" r="2.0"/><circle cx="401.4" cy="230.0" r="2.8"/><circle cx="367.5" cy="256.2" r="2.1"/><circle cx="365.6" cy="250.8" r="2.2"/><circle cx="400.8" cy="224.6" r="2.6"/><circle cx="384.1" cy="255.3" r="2.7"/><circle cx="404.5" cy="210.6" r="3.5"/><circle cx="387.9" cy="240.3" r="3.0"/><circle cx="382.2" cy="201.4" r="1.7"/><circle cx="397.4" cy="215.7" r="2.9"/><circle cx="376.4" cy="295.5" r="1.7"/><circle cx="404.3" cy="204.8" r="2.2"/><circle cx="366.8" cy="290.8" r="1.5"/><circle cx="386.0" cy="264.7" r="3.6"/><circle cx="386.6" cy="289.3" r="2.6"/><circle cx="376.4" cy="273.1" r="2.3"/><circle cx="379.9" cy="242.6" r="2.8"/><circle cx="379.4" cy="242.7" r="2.7"/><circle cx="363.6" cy="282.6" r="1.5"/><circle cx="388.0" cy="254.2" r="2.6"/><circle cx="372.5" cy="210.1" r="2.5"/><circle cx="377.1" cy="248.0" r="2.3"/><circle cx="399.3" cy="248.3" r="1.8"/><circle cx="381.8" cy="295.5" r="1.8"/><circle cx="379.7" cy="259.2" r="2.5"/><circle cx="376.5" cy="260.3" r="3.0"/><circle cx="377.2" cy="249.3" r="2.8"/><circle cx="399.5" cy="205.5" r="2.0"/><circle cx="374.0" cy="226.9" r="3.4"/><circle cx="382.8" cy="285.0" r="2.6"/><circle cx="375.7" cy="267.3" r="2.0"/><circle cx="377.8" cy="231.6" r="3.4"/><circle cx="364.0" cy="275.5" r="1.9"/><circle cx="393.0" cy="254.7" r="3.7"/><circle cx="393.7" cy="202.5" r="3.4"/><circle cx="399.5" cy="257.4" r="1.8"/><circle cx="398.7" cy="241.5" r="3.2"/><circle cx="364.9" cy="277.3" r="2.7"/><circle cx="399.4" cy="237.5" r="2.7"/><circle cx="383.4" cy="211.9" r="2.4"/><circle cx="398.6" cy="207.3" r="2.0"/><circle cx="389.1" cy="211.5" r="2.0"/><circle cx="376.9" cy="294.3" r="2.9"/><circle cx="408.1" cy="221.1" r="2.4"/><circle cx="388.5" cy="283.0" r="2.0"/><circle cx="380.4" cy="266.7" r="3.7"/><circle cx="386.3" cy="268.2" r="2.6"/><circle cx="400.8" cy="210.7" r="3.3"/><circle cx="369.6" cy="258.0" r="2.2"/><circle cx="378.8" cy="216.4" r="2.5"/><circle cx="391.3" cy="251.5" r="2.6"/><circle cx="390.4" cy="283.3" r="2.5"/><circle cx="390.9" cy="247.6" r="3.8"/><circle cx="377.8" cy="269.0" r="2.3"/><circle cx="374.4" cy="272.2" r="2.9"/><circle cx="374.2" cy="206.6" r="3.4"/><circle cx="380.4" cy="270.9" r="2.7"/><circle cx="392.6" cy="255.4" r="3.8"/><circle cx="385.9" cy="223.1" r="3.3"/><circle cx="396.7" cy="256.3" r="2.9"/><circle cx="378.1" cy="215.2" r="3.7"/><circle cx="400.1" cy="279.7" r="2.0"/><circle cx="401.1" cy="221.8" r="2.2"/><circle cx="388.4" cy="260.4" r="2.0"/><circle cx="400.1" cy="257.7" r="1.6"/><circle cx="379.7" cy="294.0" r="3.2"/><circle cx="375.9" cy="284.8" r="3.3"/><circle cx="374.6" cy="224.8" r="1.8"/><circle cx="388.5" cy="225.3" r="2.4"/><circle cx="374.0" cy="213.3" r="2.8"/><circle cx="375.0" cy="228.4" r="2.4"/><circle cx="387.1" cy="286.4" r="2.1"/><circle cx="392.2" cy="253.9" r="3.3"/><circle cx="388.4" cy="265.3" r="3.6"/><circle cx="400.6" cy="225.9" r="1.9"/><circle cx="401.3" cy="223.3" r="2.7"/><circle cx="380.0" cy="272.1" r="3.7"/><circle cx="386.9" cy="256.1" r="2.5"/><circle cx="372.9" cy="293.9" r="2.0"/><circle cx="366.3" cy="256.0" r="2.0"/><circle cx="405.6" cy="206.4" r="2.5"/><circle cx="396.0" cy="284.5" r="3.4"/><circle cx="387.7" cy="207.9" r="2.9"/><circle cx="370.5" cy="252.2" r="2.5"/><circle cx="386.5" cy="219.8" r="3.2"/><circle cx="382.4" cy="248.2" r="2.0"/><circle cx="385.9" cy="255.2" r="3.7"/><circle cx="389.7" cy="213.6" r="2.4"/><circle cx="378.2" cy="269.5" r="3.7"/><circle cx="386.1" cy="258.5" r="3.2"/><circle cx="392.3" cy="260.7" r="3.7"/><circle cx="365.5" cy="251.4" r="2.3"/><circle cx="387.6" cy="257.4" r="3.3"/><circle cx="364.6" cy="278.5" r="3.3"/><circle cx="378.2" cy="234.5" r="1.8"/><circle cx="400.4" cy="226.1" r="3.0"/><circle cx="387.9" cy="233.3" r="3.1"/><circle cx="384.3" cy="223.4" r="3.6"/><circle cx="370.1" cy="215.1" r="2.3"/><circle cx="385.5" cy="277.5" r="2.5"/><circle cx="315.6" cy="282.6" r="2.3"/><circle cx="334.1" cy="265.0" r="3.6"/><circle cx="312.1" cy="264.0" r="2.4"/><circle cx="321.5" cy="285.8" r="3.1"/><circle cx="305.2" cy="287.4" r="2.3"/><circle cx="314.3" cy="272.0" r="3.8"/><circle cx="324.2" cy="269.5" r="3.6"/><circle cx="308.9" cy="288.5" r="3.4"/><circle cx="322.1" cy="288.6" r="2.6"/><circle cx="318.8" cy="279.9" r="3.3"/><circle cx="331.0" cy="289.8" r="1.8"/><circle cx="332.5" cy="270.5" r="1.9"/><circle cx="359.5" cy="260.1" r="2.2"/><circle cx="360.6" cy="268.8" r="3.3"/><circle cx="309.3" cy="285.2" r="3.7"/><circle cx="329.6" cy="270.2" r="2.0"/><circle cx="317.8" cy="295.1" r="1.9"/><circle cx="312.1" cy="269.1" r="1.9"/><circle cx="320.1" cy="261.8" r="2.0"/><circle cx="334.3" cy="277.6" r="2.9"/><circle cx="361.7" cy="257.4" r="2.2"/><circle cx="305.1" cy="267.4" r="3.3"/><circle cx="310.5" cy="268.3" r="2.9"/><circle cx="319.2" cy="288.7" r="3.7"/><circle cx="330.0" cy="280.3" r="3.5"/><circle cx="330.3" cy="262.2" r="3.7"/><circle cx="349.7" cy="271.4" r="1.9"/><circle cx="348.0" cy="263.1" r="1.8"/><circle cx="314.4" cy="289.0" r="2.8"/><circle cx="342.5" cy="274.3" r="2.2"/><circle cx="301.1" cy="267.2" r="1.7"/><circle cx="317.0" cy="281.0" r="2.5"/><circle cx="330.8" cy="281.3" r="2.4"/><circle cx="323.3" cy="292.7" r="3.0"/><circle cx="327.2" cy="277.6" r="2.7"/><circle cx="321.7" cy="294.0" r="2.3"/><circle cx="357.4" cy="261.0" r="2.8"/><circle cx="364.1" cy="266.5" r="1.4"/><circle cx="347.1" cy="264.1" r="3.0"/><circle cx="310.3" cy="295.5" r="1.5"/><circle cx="306.4" cy="284.0" r="2.5"/><circle cx="336.5" cy="275.7" r="3.6"/><circle cx="333.5" cy="270.5" r="1.8"/><circle cx="332.4" cy="265.6" r="2.9"/><circle cx="341.2" cy="274.1" r="2.0"/><circle cx="332.4" cy="275.0" r="3.1"/><circle cx="363.2" cy="266.1" r="2.4"/><circle cx="305.6" cy="289.0" r="2.3"/><circle cx="316.7" cy="293.5" r="2.8"/><circle cx="327.8" cy="278.2" r="3.7"/><circle cx="331.9" cy="275.0" r="2.4"/><circle cx="322.4" cy="262.4" r="2.2"/><circle cx="344.6" cy="288.9" r="2.9"/><circle cx="311.6" cy="289.6" r="2.4"/><circle cx="316.0" cy="294.3" r="1.8"/><circle cx="333.4" cy="268.9" r="3.4"/><circle cx="304.3" cy="283.2" r="2.0"/><circle cx="320.3" cy="262.0" r="3.2"/><circle cx="340.6" cy="259.3" r="3.3"/><circle cx="350.1" cy="288.4" r="3.1"/><circle cx="341.6" cy="275.4" r="2.6"/><circle cx="310.6" cy="288.8" r="2.3"/><circle cx="342.6" cy="287.9" r="1.8"/><circle cx="333.6" cy="267.7" r="2.3"/><circle cx="312.3" cy="282.3" r="3.2"/><circle cx="361.3" cy="268.3" r="2.9"/><circle cx="359.3" cy="266.6" r="3.7"/><circle cx="350.4" cy="268.5" r="2.4"/><circle cx="334.1" cy="275.3" r="1.9"/><circle cx="330.8" cy="286.6" r="2.3"/><circle cx="313.1" cy="279.4" r="2.3"/><circle cx="303.5" cy="269.4" r="2.9"/><circle cx="327.0" cy="271.7" r="2.3"/><circle cx="330.9" cy="296.0" r="2.0"/><circle cx="328.2" cy="284.0" r="3.3"/><circle cx="336.2" cy="282.0" r="3.7"/><circle cx="358.8" cy="264.9" r="2.9"/><circle cx="312.4" cy="287.5" r="1.9"/><circle cx="309.9" cy="278.1" r="2.3"/><circle cx="346.9" cy="285.8" r="2.4"/><circle cx="350.0" cy="282.3" r="2.8"/><circle cx="329.8" cy="272.8" r="2.0"/><circle cx="331.0" cy="295.8" r="2.2"/><circle cx="317.6" cy="284.4" r="2.7"/><circle cx="308.4" cy="272.5" r="2.9"/><circle cx="348.5" cy="271.5" r="3.1"/><circle cx="344.4" cy="280.9" r="1.9"/><circle cx="346.3" cy="259.5" r="1.9"/><circle cx="304.8" cy="271.0" r="2.7"/><circle cx="338.3" cy="267.7" r="3.8"/><circle cx="307.9" cy="267.2" r="2.2"/><circle cx="326.8" cy="271.3" r="3.6"/><circle cx="316.8" cy="288.6" r="3.2"/><circle cx="329.2" cy="269.9" r="2.7"/><circle cx="329.5" cy="267.7" r="3.0"/><circle cx="326.8" cy="267.2" r="3.3"/><circle cx="329.7" cy="274.6" r="3.6"/><circle cx="329.7" cy="270.3" r="3.6"/><circle cx="326.2" cy="283.3" r="3.3"/><circle cx="319.4" cy="285.7" r="3.7"/><circle cx="342.7" cy="283.2" r="2.7"/><circle cx="342.6" cy="263.7" r="3.3"/><circle cx="322.3" cy="285.1" r="1.8"/><circle cx="327.1" cy="287.5" r="2.3"/><circle cx="340.0" cy="263.5" r="2.6"/><circle cx="359.4" cy="256.4" r="3.0"/><circle cx="325.5" cy="279.8" r="3.2"/><circle cx="349.6" cy="286.7" r="3.0"/><circle cx="316.5" cy="284.8" r="2.9"/><circle cx="309.0" cy="288.1" r="2.4"/><circle cx="317.9" cy="278.8" r="2.9"/><circle cx="332.3" cy="261.2" r="3.1"/><circle cx="318.9" cy="289.3" r="2.6"/><circle cx="309.5" cy="280.5" r="2.7"/><circle cx="323.0" cy="287.2" r="2.0"/><circle cx="319.6" cy="284.2" r="3.2"/><circle cx="353.9" cy="270.5" r="2.3"/><circle cx="323.4" cy="277.4" r="1.8"/><circle cx="324.4" cy="282.7" r="2.1"/><circle cx="320.3" cy="292.2" r="3.7"/><circle cx="316.3" cy="261.6" r="2.0"/><circle cx="305.7" cy="288.7" r="3.3"/><circle cx="317.3" cy="275.3" r="3.2"/><circle cx="356.0" cy="263.1" r="3.2"/><circle cx="345.6" cy="268.6" r="3.6"/><circle cx="314.3" cy="274.7" r="2.4"/><circle cx="328.8" cy="289.5" r="2.9"/><circle cx="314.6" cy="263.6" r="3.0"/><circle cx="322.3" cy="273.2" r="2.7"/><circle cx="344.1" cy="261.3" r="2.5"/><circle cx="346.0" cy="263.3" r="3.6"/><circle cx="356.8" cy="263.8" r="2.5"/><circle cx="315.0" cy="285.4" r="1.9"/><circle cx="345.3" cy="256.6" r="2.2"/><circle cx="335.4" cy="279.5" r="2.0"/><circle cx="303.0" cy="269.3" r="3.8"/><circle cx="311.6" cy="265.8" r="3.1"/><circle cx="345.3" cy="268.0" r="2.7"/><circle cx="318.9" cy="278.5" r="2.5"/><circle cx="323.5" cy="264.8" r="2.4"/><circle cx="320.3" cy="279.8" r="2.3"/><circle cx="307.4" cy="291.0" r="2.7"/><circle cx="333.4" cy="267.5" r="3.6"/><circle cx="349.1" cy="281.2" r="2.7"/><circle cx="345.1" cy="275.8" r="2.4"/><circle cx="325.5" cy="276.0" r="2.7"/><circle cx="334.5" cy="277.3" r="3.4"/><circle cx="358.1" cy="263.7" r="1.8"/><circle cx="318.7" cy="262.2" r="3.3"/><circle cx="345.1" cy="286.6" r="2.7"/><circle cx="325.9" cy="278.1" r="3.6"/><circle cx="354.4" cy="257.1" r="2.3"/><circle cx="333.6" cy="267.4" r="3.5"/><circle cx="325.4" cy="281.9" r="2.0"/><circle cx="328.4" cy="287.3" r="3.0"/><circle cx="338.0" cy="261.4" r="2.7"/><circle cx="314.2" cy="273.5" r="2.9"/><circle cx="322.0" cy="279.2" r="3.1"/><circle cx="342.8" cy="263.2" r="1.9"/><circle cx="349.6" cy="268.5" r="3.7"/><circle cx="336.4" cy="258.3" r="3.1"/><circle cx="317.1" cy="289.6" r="3.2"/><circle cx="349.4" cy="256.3" r="1.9"/><circle cx="352.0" cy="260.0" r="2.2"/><circle cx="330.9" cy="296.0" r="2.2"/><circle cx="317.0" cy="290.2" r="2.2"/><circle cx="341.4" cy="280.9" r="3.7"/><circle cx="302.9" cy="278.6" r="2.6"/><circle cx="353.6" cy="264.9" r="3.2"/><circle cx="312.1" cy="275.6" r="3.7"/><circle cx="315.7" cy="266.1" r="3.6"/><circle cx="343.9" cy="256.7" r="2.2"/><circle cx="315.5" cy="266.6" r="3.5"/><circle cx="343.6" cy="281.4" r="2.6"/><circle cx="346.7" cy="275.5" r="1.6"/><circle cx="332.1" cy="270.7" r="2.9"/><circle cx="321.6" cy="260.3" r="2.1"/><circle cx="359.6" cy="261.7" r="2.8"/><circle cx="332.6" cy="287.5" r="2.9"/><circle cx="315.6" cy="262.1" r="2.6"/><circle cx="330.5" cy="290.9" r="3.0"/><circle cx="348.6" cy="287.3" r="3.2"/><circle cx="357.1" cy="270.6" r="2.0"/><circle cx="318.7" cy="262.2" r="2.0"/><circle cx="313.1" cy="282.0" r="2.1"/><circle cx="311.1" cy="277.4" r="2.6"/><circle cx="309.8" cy="278.8" r="2.8"/><circle cx="325.3" cy="274.7" r="1.9"/><circle cx="340.1" cy="262.3" r="2.5"/><circle cx="338.3" cy="271.1" r="2.9"/><circle cx="361.2" cy="259.6" r="2.6"/><circle cx="346.1" cy="270.2" r="3.2"/><circle cx="359.1" cy="255.6" r="2.4"/><circle cx="319.1" cy="286.8" r="3.4"/><circle cx="312.2" cy="271.1" r="3.5"/><circle cx="349.9" cy="258.8" r="3.8"/><circle cx="323.6" cy="280.4" r="3.7"/><circle cx="362.5" cy="260.1" r="2.6"/><circle cx="336.8" cy="259.6" r="3.4"/><circle cx="304.1" cy="281.5" r="2.4"/><circle cx="321.1" cy="280.5" r="2.2"/><circle cx="329.2" cy="291.5" r="3.8"/><circle cx="317.2" cy="269.9" r="3.2"/><circle cx="312.4" cy="291.2" r="2.2"/><circle cx="336.3" cy="268.7" r="1.8"/><circle cx="321.4" cy="265.9" r="3.8"/><circle cx="341.5" cy="256.7" r="2.3"/><circle cx="315.2" cy="275.0" r="3.2"/><circle cx="327.5" cy="267.8" r="2.6"/><circle cx="320.4" cy="286.4" r="2.7"/><circle cx="344.7" cy="260.5" r="3.4"/><circle cx="362.9" cy="262.7" r="3.0"/><circle cx="327.0" cy="261.9" r="3.3"/><circle cx="337.3" cy="283.5" r="3.2"/><circle cx="302.4" cy="274.0" r="3.4"/><circle cx="344.5" cy="277.9" r="3.5"/><circle cx="324.3" cy="258.8" r="1.6"/><circle cx="301.8" cy="263.9" r="1.6"/><circle cx="334.7" cy="259.4" r="3.0"/><circle cx="341.8" cy="317.4" r="1.8"/><circle cx="337.2" cy="328.2" r="3.6"/><circle cx="333.7" cy="324.1" r="3.5"/><circle cx="337.4" cy="335.1" r="1.4"/><circle cx="340.3" cy="325.5" r="2.7"/><circle cx="325.0" cy="324.6" r="2.8"/><circle cx="332.4" cy="309.4" r="1.5"/><circle cx="335.3" cy="326.9" r="3.8"/><circle cx="340.9" cy="315.9" r="1.6"/><circle cx="332.3" cy="330.3" r="2.6"/><circle cx="344.7" cy="321.4" r="1.8"/><circle cx="331.5" cy="317.8" r="3.8"/><circle cx="318.5" cy="319.0" r="2.0"/><circle cx="321.6" cy="319.7" r="3.0"/><circle cx="340.0" cy="320.2" r="2.4"/><circle cx="328.1" cy="332.7" r="2.2"/><circle cx="331.6" cy="311.5" r="2.1"/><circle cx="343.8" cy="328.8" r="1.9"/><circle cx="337.4" cy="313.8" r="2.3"/><circle cx="321.4" cy="329.6" r="2.0"/><circle cx="318.2" cy="326.1" r="2.1"/><circle cx="344.1" cy="329.9" r="2.2"/><circle cx="318.5" cy="324.7" r="2.7"/><circle cx="326.1" cy="333.5" r="2.2"/><circle cx="335.6" cy="316.8" r="3.2"/><circle cx="344.2" cy="330.1" r="1.9"/><circle cx="332.2" cy="311.7" r="2.9"/><circle cx="324.6" cy="323.3" r="2.4"/><circle cx="322.2" cy="328.6" r="3.3"/><circle cx="327.2" cy="319.6" r="3.2"/><circle cx="338.9" cy="320.8" r="2.0"/><circle cx="320.0" cy="312.5" r="1.5"/><circle cx="332.0" cy="325.8" r="2.5"/><circle cx="328.2" cy="312.7" r="3.7"/><circle cx="335.3" cy="311.4" r="1.9"/><circle cx="335.0" cy="325.0" r="3.3"/><circle cx="335.4" cy="332.3" r="3.7"/><circle cx="329.3" cy="326.0" r="2.5"/><circle cx="329.4" cy="318.1" r="3.1"/><circle cx="327.7" cy="317.7" r="3.5"/><circle cx="341.1" cy="326.7" r="3.5"/><circle cx="328.7" cy="325.8" r="2.3"/><circle cx="326.6" cy="310.6" r="3.4"/><circle cx="328.4" cy="311.1" r="2.1"/><circle cx="336.2" cy="332.8" r="2.0"/><circle cx="324.7" cy="329.1" r="2.3"/><circle cx="331.3" cy="313.4" r="2.4"/><circle cx="329.8" cy="315.6" r="3.3"/><circle cx="318.0" cy="325.7" r="2.2"/><circle cx="326.9" cy="313.2" r="2.0"/><circle cx="330.7" cy="324.6" r="2.4"/><circle cx="318.1" cy="319.6" r="1.9"/><circle cx="344.8" cy="332.1" r="1.9"/><circle cx="320.9" cy="330.4" r="1.7"/><circle cx="333.8" cy="310.5" r="2.0"/><circle cx="329.4" cy="312.2" r="3.8"/><circle cx="334.4" cy="332.9" r="3.7"/><circle cx="339.8" cy="325.9" r="2.7"/><circle cx="340.4" cy="326.5" r="2.1"/><circle cx="333.0" cy="319.4" r="2.8"/><circle cx="338.5" cy="327.1" r="2.9"/><circle cx="340.8" cy="330.9" r="2.0"/><circle cx="326.4" cy="320.1" r="2.7"/><circle cx="334.0" cy="315.6" r="3.4"/><circle cx="327.1" cy="331.5" r="3.4"/><circle cx="319.2" cy="315.3" r="2.6"/><circle cx="334.8" cy="326.5" r="2.6"/><circle cx="379.6" cy="303.3" r="2.7"/><circle cx="372.1" cy="320.8" r="1.7"/><circle cx="368.6" cy="303.1" r="2.9"/><circle cx="375.6" cy="301.7" r="3.5"/><circle cx="368.1" cy="301.9" r="2.3"/><circle cx="378.3" cy="300.5" r="2.5"/><circle cx="371.6" cy="319.8" r="2.2"/><circle cx="386.9" cy="312.0" r="2.7"/><circle cx="378.1" cy="309.5" r="2.7"/><circle cx="374.0" cy="316.8" r="2.1"/><circle cx="366.0" cy="310.1" r="2.5"/><circle cx="376.9" cy="330.7" r="2.8"/><circle cx="365.6" cy="307.5" r="2.3"/><circle cx="373.6" cy="300.9" r="3.0"/><circle cx="388.7" cy="309.9" r="2.2"/><circle cx="386.6" cy="304.3" r="3.2"/><circle cx="370.1" cy="307.5" r="3.3"/><circle cx="385.8" cy="307.0" r="2.7"/><circle cx="374.9" cy="313.3" r="3.4"/><circle cx="368.2" cy="307.0" r="2.7"/><circle cx="366.1" cy="306.4" r="2.4"/><circle cx="376.7" cy="330.7" r="2.7"/><circle cx="374.4" cy="304.2" r="1.9"/><circle cx="366.2" cy="311.1" r="2.9"/><circle cx="376.1" cy="316.7" r="2.4"/><circle cx="374.3" cy="314.0" r="2.6"/><circle cx="372.4" cy="297.7" r="2.4"/><circle cx="373.2" cy="300.1" r="1.9"/><circle cx="389.8" cy="309.1" r="2.7"/><circle cx="380.6" cy="314.1" r="2.5"/><circle cx="386.2" cy="314.4" r="2.9"/><circle cx="377.9" cy="315.5" r="3.0"/><circle cx="379.7" cy="326.1" r="2.5"/><circle cx="382.3" cy="317.9" r="3.0"/><circle cx="366.1" cy="313.4" r="2.6"/><circle cx="380.8" cy="301.1" r="3.3"/><circle cx="378.7" cy="323.0" r="2.4"/><circle cx="372.6" cy="298.8" r="3.2"/><circle cx="365.7" cy="313.5" r="2.2"/><circle cx="377.4" cy="305.9" r="3.1"/><circle cx="367.8" cy="308.1" r="2.6"/><circle cx="378.2" cy="311.9" r="3.0"/><circle cx="371.2" cy="304.8" r="2.7"/><circle cx="383.1" cy="318.2" r="2.2"/><circle cx="371.5" cy="304.8" r="3.4"/><circle cx="390.4" cy="305.5" r="2.0"/><circle cx="385.2" cy="313.3" r="3.3"/><circle cx="386.6" cy="314.6" r="2.3"/><circle cx="379.7" cy="320.3" r="2.4"/><circle cx="383.0" cy="301.2" r="3.7"/><circle cx="370.7" cy="304.2" r="3.7"/><circle cx="385.6" cy="313.9" r="3.6"/><circle cx="384.5" cy="309.4" r="3.1"/><circle cx="377.9" cy="303.4" r="2.7"/><circle cx="384.2" cy="316.1" r="2.0"/><circle cx="364.8" cy="310.5" r="1.5"/><circle cx="371.2" cy="304.0" r="2.6"/><circle cx="374.8" cy="308.4" r="1.9"/><circle cx="383.8" cy="318.2" r="1.5"/><circle cx="382.2" cy="309.2" r="1.8"/><circle cx="390.4" cy="310.5" r="1.8"/><circle cx="374.0" cy="308.8" r="3.8"/><circle cx="376.0" cy="306.0" r="3.2"/><circle cx="367.5" cy="307.1" r="2.6"/><circle cx="376.8" cy="325.5" r="2.5"/><circle cx="379.9" cy="304.2" r="1.8"/><circle cx="373.0" cy="313.9" r="2.8"/><circle cx="372.3" cy="315.6" r="1.9"/><circle cx="374.7" cy="306.3" r="3.4"/><circle cx="430.1" cy="327.4" r="3.0"/><circle cx="434.9" cy="329.0" r="1.9"/><circle cx="398.0" cy="329.2" r="3.5"/><circle cx="399.4" cy="322.4" r="3.0"/><circle cx="421.8" cy="306.2" r="1.5"/><circle cx="417.1" cy="311.2" r="3.8"/><circle cx="425.0" cy="310.9" r="2.2"/><circle cx="406.7" cy="323.9" r="2.4"/><circle cx="424.8" cy="335.1" r="3.8"/><circle cx="404.2" cy="332.1" r="2.0"/><circle cx="397.9" cy="328.1" r="2.9"/><circle cx="432.5" cy="319.8" r="2.7"/><circle cx="392.9" cy="327.4" r="1.5"/><circle cx="417.9" cy="335.9" r="3.0"/><circle cx="397.3" cy="328.2" r="3.2"/><circle cx="408.0" cy="330.1" r="3.0"/><circle cx="412.2" cy="320.9" r="2.4"/><circle cx="409.0" cy="330.1" r="2.5"/><circle cx="394.0" cy="324.1" r="3.0"/><circle cx="403.2" cy="309.4" r="2.1"/><circle cx="392.9" cy="319.7" r="2.6"/><circle cx="407.2" cy="332.2" r="2.9"/><circle cx="422.0" cy="334.0" r="1.9"/><circle cx="426.7" cy="309.8" r="3.2"/><circle cx="433.2" cy="328.4" r="2.3"/><circle cx="394.9" cy="312.2" r="1.9"/><circle cx="435.6" cy="314.4" r="2.0"/><circle cx="409.3" cy="308.8" r="2.7"/><circle cx="422.4" cy="325.8" r="2.0"/><circle cx="413.6" cy="331.5" r="2.3"/><circle cx="432.7" cy="310.3" r="2.6"/><circle cx="419.3" cy="321.3" r="3.2"/><circle cx="439.0" cy="327.2" r="1.4"/><circle cx="401.5" cy="319.2" r="2.4"/><circle cx="426.3" cy="316.8" r="1.9"/><circle cx="400.0" cy="328.4" r="3.7"/><circle cx="431.8" cy="323.9" r="2.8"/><circle cx="397.2" cy="325.3" r="2.1"/><circle cx="398.2" cy="323.4" r="3.1"/><circle cx="431.6" cy="332.2" r="2.1"/><circle cx="406.7" cy="306.5" r="2.8"/><circle cx="425.7" cy="331.5" r="2.8"/><circle cx="433.0" cy="331.4" r="2.2"/><circle cx="408.8" cy="303.2" r="1.6"/><circle cx="406.0" cy="317.3" r="3.5"/><circle cx="405.1" cy="324.3" r="1.9"/><circle cx="425.4" cy="336.9" r="2.4"/><circle cx="398.8" cy="322.5" r="1.9"/><circle cx="412.4" cy="331.9" r="3.3"/><circle cx="434.3" cy="318.3" r="2.7"/><circle cx="420.0" cy="316.4" r="2.1"/><circle cx="412.8" cy="306.3" r="3.0"/><circle cx="422.1" cy="333.7" r="2.9"/><circle cx="399.5" cy="311.5" r="3.5"/><circle cx="420.8" cy="325.4" r="3.1"/><circle cx="413.1" cy="332.8" r="3.7"/><circle cx="421.1" cy="310.9" r="1.9"/><circle cx="419.5" cy="316.5" r="3.7"/><circle cx="401.8" cy="308.8" r="1.8"/><circle cx="392.3" cy="322.8" r="2.2"/><circle cx="422.3" cy="335.4" r="3.3"/><circle cx="405.5" cy="323.9" r="2.4"/><circle cx="429.6" cy="310.8" r="3.5"/><circle cx="425.5" cy="334.6" r="2.5"/><circle cx="439.3" cy="323.0" r="2.3"/><circle cx="423.9" cy="312.8" r="2.0"/><circle cx="393.5" cy="324.1" r="2.3"/><circle cx="396.5" cy="330.3" r="2.0"/><circle cx="429.3" cy="311.4" r="2.5"/><circle cx="421.7" cy="336.3" r="3.0"/><circle cx="420.7" cy="313.3" r="2.6"/><circle cx="420.0" cy="310.4" r="3.1"/><circle cx="434.8" cy="328.2" r="2.3"/><circle cx="392.9" cy="314.9" r="2.7"/><circle cx="433.9" cy="321.7" r="2.8"/><circle cx="421.8" cy="321.9" r="3.2"/><circle cx="419.4" cy="321.9" r="2.3"/><circle cx="397.7" cy="317.6" r="3.6"/><circle cx="438.9" cy="312.1" r="1.6"/><circle cx="417.5" cy="318.2" r="2.2"/><circle cx="402.9" cy="311.6" r="2.2"/><circle cx="401.2" cy="304.1" r="2.1"/><circle cx="400.1" cy="325.3" r="3.0"/><circle cx="422.8" cy="319.2" r="3.0"/><circle cx="406.3" cy="318.5" r="3.2"/><circle cx="402.3" cy="328.7" r="3.0"/><circle cx="419.0" cy="330.0" r="2.4"/><circle cx="410.2" cy="317.4" r="3.3"/><circle cx="427.5" cy="308.1" r="3.7"/><circle cx="440.7" cy="319.7" r="1.6"/><circle cx="422.6" cy="315.6" r="2.0"/><circle cx="392.4" cy="323.3" r="2.3"/><circle cx="422.4" cy="330.5" r="2.7"/><circle cx="428.7" cy="323.8" r="3.1"/><circle cx="419.0" cy="326.2" r="2.9"/><circle cx="396.0" cy="326.5" r="3.2"/><circle cx="415.6" cy="307.4" r="2.8"/><circle cx="409.4" cy="307.3" r="3.6"/><circle cx="400.4" cy="327.9" r="2.1"/><circle cx="437.0" cy="318.0" r="3.1"/><circle cx="414.5" cy="307.3" r="2.5"/><circle cx="413.6" cy="333.8" r="2.0"/><circle cx="418.5" cy="318.8" r="2.9"/><circle cx="431.2" cy="323.6" r="2.4"/><circle cx="439.3" cy="323.6" r="2.3"/><circle cx="418.9" cy="333.7" r="1.9"/><circle cx="424.0" cy="319.4" r="2.4"/><circle cx="399.5" cy="309.8" r="2.7"/><circle cx="412.6" cy="323.7" r="2.3"/><circle cx="422.6" cy="318.9" r="3.4"/><circle cx="431.8" cy="310.0" r="3.8"/><circle cx="418.9" cy="313.7" r="2.3"/><circle cx="427.2" cy="317.5" r="3.2"/><circle cx="413.5" cy="316.2" r="3.0"/><circle cx="417.7" cy="321.7" r="2.9"/><circle cx="432.5" cy="311.5" r="1.9"/><circle cx="400.3" cy="319.7" r="3.5"/><circle cx="407.3" cy="319.6" r="3.7"/><circle cx="424.0" cy="333.2" r="3.0"/><circle cx="437.1" cy="326.4" r="2.3"/><circle cx="410.2" cy="319.1" r="2.0"/><circle cx="437.8" cy="319.3" r="2.2"/><circle cx="416.1" cy="331.4" r="2.3"/><circle cx="403.6" cy="308.1" r="2.8"/><circle cx="426.0" cy="309.6" r="3.2"/><circle cx="420.9" cy="329.3" r="3.8"/><circle cx="414.3" cy="320.3" r="2.2"/><circle cx="395.8" cy="325.4" r="2.0"/><circle cx="418.7" cy="308.5" r="2.3"/><circle cx="429.9" cy="317.9" r="2.1"/><circle cx="422.7" cy="317.8" r="2.9"/><circle cx="426.7" cy="332.6" r="3.4"/><circle cx="403.9" cy="330.4" r="2.0"/><circle cx="397.9" cy="320.2" r="2.2"/><circle cx="419.6" cy="311.8" r="3.7"/><circle cx="413.2" cy="331.8" r="3.7"/><circle cx="414.2" cy="330.0" r="2.8"/><circle cx="411.5" cy="305.8" r="3.0"/><circle cx="437.7" cy="327.0" r="2.4"/><circle cx="417.8" cy="314.5" r="2.6"/><circle cx="415.6" cy="320.3" r="2.1"/><circle cx="428.2" cy="310.6" r="2.6"/><circle cx="403.9" cy="323.6" r="2.7"/><circle cx="425.8" cy="317.1" r="3.4"/><circle cx="416.2" cy="310.6" r="2.4"/><circle cx="439.0" cy="319.1" r="3.3"/><circle cx="399.3" cy="324.8" r="2.0"/><circle cx="402.6" cy="305.9" r="1.8"/><circle cx="428.3" cy="326.0" r="1.9"/><circle cx="403.2" cy="330.4" r="3.3"/><circle cx="403.2" cy="320.2" r="3.4"/><circle cx="421.7" cy="320.8" r="2.2"/></g>
<g fill="#6ccde0" filter="url(#spk)"><polygon points="325.3,212.0 320.7,217.8 320.7,217.9 315.3,224.8 309.4,233.1 305.1,242.7 302.7,254.0 302.3,261.0 305.2,263.3 309.7,260.8 308.9,253.9 308.9,253.7 308.9,253.5 308.9,253.3 309.0,253.1 309.0,252.9 309.1,252.7 312.7,245.5 312.8,245.3 312.9,245.2 313.1,245.0 313.2,244.9 313.4,244.7 320.5,239.4 320.7,239.3 329.0,234.3 332.4,226.0 332.4,226.0 335.6,218.0 331.5,210.5 325.3,212.0"/><polygon points="339.8,217.9 338.4,222.6 340.5,225.9 346.0,223.5 346.2,223.4 346.5,223.3 346.7,223.3 346.9,223.3 347.1,223.3 347.4,223.3 347.6,223.4 347.8,223.5 348.0,223.6 354.1,227.1 354.3,227.2 354.5,227.4 354.6,227.5 354.8,227.7 354.9,227.9 358.2,233.6 359.1,234.4 360.2,231.8 358.9,224.9 354.4,218.4 346.9,216.1 339.8,217.9"/><polygon points="370.0,204.6 369.2,212.0 370.2,224.8 370.2,225.0 370.2,225.2 369.2,238.2 369.2,238.4 369.1,238.6 363.2,258.4 362.2,269.8 366.0,286.7 371.0,290.0 378.7,292.9 385.3,294.6 390.4,289.4 390.6,289.3 390.7,289.2 397.3,284.5 400.7,278.6 398.9,270.5 398.8,270.4 396.8,258.4 396.8,258.1 396.8,257.8 397.8,244.8 397.8,244.6 397.9,244.4 401.9,231.4 404.9,221.4 405.0,221.2 408.6,212.1 406.2,207.4 401.0,203.0 391.8,200.7 378.4,201.7 370.0,204.6"/><polygon points="302.0,263.8 301.2,271.9 303.1,284.2 307.4,291.1 318.2,293.8 329.1,292.9 334.0,288.8 335.9,281.5 335.9,281.3 336.0,281.1 336.1,280.9 336.2,280.7 336.4,280.5 336.5,280.4 336.7,280.2 336.9,280.1 337.1,280.0 337.3,279.9 337.5,279.9 337.7,279.8 337.9,279.8 338.1,279.8 338.3,279.8 338.6,279.9 338.8,279.9 339.0,280.0 339.2,280.1 339.3,280.3 339.5,280.4 339.7,280.6 339.8,280.7 344.1,286.8 348.3,286.8 349.6,282.5 343.3,275.4 343.2,275.3 343.1,275.1 343.0,274.9 342.9,274.7 342.9,274.5 342.8,274.3 342.8,274.1 342.8,273.9 342.8,273.6 342.9,273.4 342.9,273.2 343.0,273.0 343.1,272.8 343.2,272.7 343.4,272.5 343.5,272.4 343.7,272.2 343.9,272.1 344.1,272.0 344.3,271.9 344.5,271.9 344.7,271.8 351.5,270.9 358.5,268.2 361.7,262.6 360.2,254.6 352.4,256.2 352.2,256.2 352.0,256.2 340.1,256.2 328.5,257.2 320.8,260.1 320.6,260.1 320.4,260.2 302.0,263.8"/><polygon points="319.1,313.2 318.3,323.3 323.2,330.0 333.9,331.7 342.1,329.3 343.6,322.5 338.4,315.5 332.0,310.0 325.5,308.4 319.1,313.2"/><polygon points="365.8,301.7 365.8,311.0 370.5,316.3 373.2,318.2 373.4,318.3 373.6,318.4 373.7,318.6 373.8,318.8 373.9,318.9 374.0,319.1 374.1,319.3 374.2,319.5 374.2,319.8 375.1,327.6 375.9,328.0 378.0,323.2 380.9,315.2 381.0,315.0 381.1,314.9 381.2,314.7 381.4,314.5 381.5,314.4 381.7,314.2 386.9,310.3 389.6,304.9 385.5,299.4 377.5,297.0 370.0,296.3 365.8,301.7"/><polygon points="392.6,312.5 392.6,323.5 396.9,327.7 405.1,329.3 405.3,329.4 405.5,329.5 414.3,333.0 422.4,334.6 430.2,331.5 436.6,323.5 438.2,314.2 433.8,308.3 426.0,305.2 419.5,306.8 419.3,306.9 419.1,306.9 418.9,306.9 418.7,306.9 418.5,306.8 411.4,305.0 411.1,304.9 403.3,301.8 397.4,306.3 392.6,312.5"/><circle cx="317.2" cy="240.5" r="3.4"/><circle cx="317.7" cy="237.5" r="2.8"/><circle cx="307.0" cy="237.7" r="2.9"/><circle cx="330.1" cy="213.5" r="2.2"/><circle cx="303.4" cy="255.0" r="3.0"/><circle cx="323.4" cy="217.1" r="1.6"/><circle cx="317.4" cy="224.1" r="3.6"/><circle cx="326.9" cy="226.3" r="2.1"/><circle cx="329.1" cy="231.2" r="3.3"/><circle cx="308.0" cy="260.8" r="2.5"/><circle cx="302.8" cy="244.5" r="1.5"/><circle cx="328.8" cy="214.8" r="2.1"/><circle cx="330.3" cy="218.3" r="2.7"/><circle cx="317.0" cy="219.1" r="1.2"/><circle cx="305.0" cy="245.3" r="1.8"/><circle cx="316.0" cy="220.3" r="1.2"/><circle cx="311.6" cy="259.3" r="1.4"/><circle cx="324.4" cy="213.8" r="3.6"/><circle cx="329.4" cy="227.1" r="2.2"/><circle cx="322.1" cy="222.1" r="2.8"/><circle cx="314.1" cy="234.3" r="3.5"/><circle cx="318.4" cy="241.3" r="3.1"/><circle cx="307.5" cy="263.1" r="2.5"/><circle cx="322.9" cy="232.4" r="1.8"/><circle cx="309.1" cy="248.9" r="2.1"/><circle cx="327.4" cy="212.0" r="2.1"/><circle cx="323.3" cy="224.3" r="3.4"/><circle cx="310.2" cy="233.9" r="1.7"/><circle cx="321.7" cy="215.6" r="2.3"/><circle cx="322.2" cy="216.1" r="1.7"/><circle cx="300.7" cy="260.8" r="1.8"/><circle cx="324.2" cy="236.0" r="3.1"/><circle cx="313.4" cy="247.7" r="1.8"/><circle cx="314.5" cy="241.8" r="2.8"/><circle cx="303.0" cy="245.1" r="1.9"/><circle cx="322.1" cy="233.6" r="3.3"/><circle cx="303.2" cy="251.5" r="1.7"/><circle cx="322.8" cy="235.9" r="2.1"/><circle cx="326.5" cy="236.8" r="2.5"/><circle cx="335.0" cy="222.8" r="1.6"/><circle cx="311.4" cy="247.3" r="2.0"/><circle cx="306.4" cy="260.5" r="2.9"/><circle cx="312.4" cy="246.6" r="2.0"/><circle cx="314.6" cy="241.8" r="2.2"/><circle cx="317.1" cy="224.0" r="2.0"/><circle cx="315.7" cy="244.3" r="2.4"/><circle cx="333.2" cy="210.4" r="1.9"/><circle cx="321.7" cy="225.9" r="3.2"/><circle cx="331.5" cy="221.8" r="1.9"/><circle cx="317.0" cy="244.5" r="1.4"/><circle cx="326.0" cy="219.6" r="2.6"/><circle cx="313.1" cy="248.4" r="1.7"/><circle cx="334.4" cy="213.1" r="2.0"/><circle cx="327.5" cy="215.5" r="2.5"/><circle cx="314.3" cy="241.0" r="3.4"/><circle cx="307.8" cy="249.9" r="3.2"/><circle cx="308.1" cy="260.2" r="3.6"/><circle cx="330.0" cy="226.6" r="3.4"/><circle cx="332.5" cy="228.2" r="1.8"/><circle cx="316.8" cy="239.9" r="3.1"/><circle cx="330.7" cy="211.7" r="3.2"/><circle cx="329.9" cy="216.1" r="1.9"/><circle cx="308.4" cy="238.5" r="2.2"/><circle cx="321.3" cy="226.1" r="2.4"/><circle cx="307.9" cy="257.3" r="3.5"/><circle cx="319.9" cy="241.2" r="2.0"/><circle cx="320.4" cy="237.2" r="2.8"/><circle cx="319.6" cy="231.2" r="3.2"/><circle cx="321.4" cy="236.5" r="3.0"/><circle cx="335.1" cy="223.6" r="1.8"/><circle cx="318.1" cy="226.4" r="2.0"/><circle cx="304.9" cy="253.2" r="1.6"/><circle cx="326.1" cy="226.7" r="2.3"/><circle cx="323.6" cy="214.1" r="3.1"/><circle cx="320.2" cy="233.3" r="2.4"/><circle cx="315.7" cy="238.7" r="1.9"/><circle cx="307.8" cy="244.6" r="2.9"/><circle cx="308.8" cy="251.0" r="3.2"/><circle cx="334.3" cy="226.3" r="1.5"/><circle cx="335.1" cy="220.7" r="2.9"/><circle cx="333.7" cy="215.8" r="2.1"/><circle cx="327.6" cy="223.1" r="1.8"/><circle cx="331.6" cy="232.5" r="1.7"/><circle cx="307.6" cy="247.6" r="3.4"/><circle cx="321.0" cy="237.9" r="2.7"/><circle cx="307.7" cy="256.7" r="3.6"/><circle cx="335.2" cy="213.5" r="1.5"/><circle cx="329.1" cy="227.0" r="2.5"/><circle cx="319.6" cy="232.9" r="2.8"/><circle cx="332.1" cy="218.5" r="2.5"/><circle cx="328.1" cy="231.5" r="2.0"/><circle cx="306.3" cy="237.7" r="1.6"/><circle cx="323.9" cy="231.5" r="2.8"/><circle cx="330.6" cy="223.0" r="3.4"/><circle cx="331.0" cy="231.5" r="2.6"/><circle cx="313.5" cy="245.0" r="2.8"/><circle cx="308.8" cy="262.8" r="2.1"/><circle cx="312.8" cy="246.3" r="2.7"/><circle cx="320.3" cy="230.6" r="3.6"/><circle cx="328.1" cy="222.9" r="2.4"/><circle cx="309.5" cy="260.5" r="2.7"/><circle cx="302.9" cy="242.7" r="1.2"/><circle cx="301.7" cy="261.9" r="1.9"/><circle cx="302.2" cy="262.8" r="1.9"/><circle cx="345.7" cy="220.7" r="2.9"/><circle cx="350.9" cy="220.7" r="3.0"/><circle cx="347.4" cy="225.4" r="1.6"/><circle cx="342.5" cy="226.5" r="2.1"/><circle cx="355.2" cy="225.1" r="3.6"/><circle cx="357.6" cy="228.4" r="1.8"/><circle cx="352.5" cy="224.8" r="2.0"/><circle cx="339.3" cy="224.5" r="2.9"/><circle cx="348.1" cy="220.1" r="2.8"/><circle cx="361.2" cy="231.6" r="2.1"/><circle cx="356.8" cy="228.9" r="2.3"/><circle cx="341.0" cy="219.8" r="3.6"/><circle cx="360.3" cy="235.1" r="1.7"/><circle cx="337.6" cy="220.4" r="2.0"/><circle cx="352.5" cy="216.3" r="1.9"/><circle cx="353.9" cy="227.1" r="2.9"/><circle cx="345.9" cy="225.4" r="1.7"/><circle cx="341.6" cy="224.1" r="2.1"/><circle cx="357.5" cy="222.7" r="2.9"/><circle cx="360.4" cy="224.1" r="1.8"/><circle cx="351.0" cy="225.5" r="3.0"/><circle cx="338.0" cy="219.0" r="2.0"/><circle cx="338.2" cy="221.2" r="2.8"/><circle cx="354.4" cy="220.6" r="1.9"/><circle cx="345.7" cy="216.6" r="3.0"/><circle cx="344.1" cy="221.5" r="2.4"/><circle cx="360.8" cy="235.5" r="1.5"/><circle cx="345.6" cy="222.6" r="2.3"/><circle cx="346.5" cy="223.2" r="2.0"/><circle cx="350.9" cy="218.1" r="3.1"/><circle cx="361.6" cy="229.6" r="1.6"/><circle cx="352.8" cy="217.3" r="2.8"/><circle cx="353.2" cy="219.7" r="2.0"/><circle cx="356.3" cy="226.4" r="3.1"/><circle cx="346.5" cy="222.0" r="3.5"/><circle cx="353.8" cy="225.7" r="2.7"/><circle cx="396.8" cy="268.3" r="3.4"/><circle cx="380.9" cy="279.9" r="2.9"/><circle cx="386.7" cy="268.4" r="3.2"/><circle cx="381.5" cy="239.9" r="1.9"/><circle cx="379.2" cy="215.0" r="2.0"/><circle cx="381.7" cy="227.3" r="3.5"/><circle cx="365.9" cy="262.3" r="3.2"/><circle cx="369.2" cy="204.6" r="2.5"/><circle cx="389.8" cy="288.1" r="1.7"/><circle cx="371.1" cy="221.7" r="3.0"/><circle cx="390.3" cy="220.6" r="2.0"/><circle cx="374.3" cy="215.5" r="3.1"/><circle cx="375.9" cy="252.5" r="3.2"/><circle cx="384.5" cy="224.2" r="3.4"/><circle cx="387.9" cy="292.8" r="2.6"/><circle cx="371.3" cy="203.4" r="2.7"/><circle cx="400.9" cy="236.4" r="2.7"/><circle cx="386.3" cy="225.5" r="3.6"/><circle cx="393.5" cy="221.9" r="1.6"/><circle cx="384.1" cy="235.1" r="3.2"/><circle cx="396.4" cy="258.2" r="1.9"/><circle cx="368.0" cy="230.2" r="1.6"/><circle cx="373.6" cy="251.2" r="1.9"/><circle cx="401.9" cy="206.6" r="2.1"/><circle cx="396.5" cy="208.1" r="2.6"/><circle cx="383.9" cy="292.6" r="2.8"/><circle cx="403.7" cy="228.4" r="2.5"/><circle cx="381.3" cy="288.8" r="1.8"/><circle cx="402.1" cy="219.0" r="2.7"/><circle cx="386.8" cy="214.0" r="3.3"/><circle cx="375.9" cy="229.1" r="1.8"/><circle cx="375.6" cy="244.5" r="3.0"/><circle cx="378.3" cy="266.2" r="1.8"/><circle cx="380.1" cy="244.0" r="3.5"/><circle cx="396.2" cy="221.9" r="2.7"/><circle cx="383.4" cy="199.5" r="1.6"/><circle cx="400.8" cy="218.9" r="2.8"/><circle cx="374.8" cy="235.5" r="2.7"/><circle cx="375.2" cy="231.7" r="2.4"/><circle cx="394.0" cy="223.8" r="2.0"/><circle cx="397.3" cy="230.9" r="3.5"/><circle cx="388.7" cy="269.8" r="2.3"/><circle cx="402.2" cy="207.6" r="1.9"/><circle cx="364.8" cy="265.3" r="3.0"/><circle cx="369.2" cy="238.1" r="3.3"/><circle cx="390.2" cy="207.4" r="2.1"/><circle cx="368.0" cy="210.7" r="2.1"/><circle cx="381.8" cy="248.9" r="2.9"/><circle cx="399.1" cy="279.4" r="2.4"/><circle cx="376.9" cy="239.1" r="1.6"/><circle cx="380.4" cy="267.4" r="3.6"/><circle cx="391.0" cy="200.3" r="2.3"/><circle cx="377.5" cy="262.6" r="1.8"/><circle cx="379.3" cy="248.7" r="3.2"/><circle cx="368.1" cy="274.0" r="3.4"/><circle cx="388.0" cy="233.2" r="2.6"/><circle cx="367.2" cy="268.8" r="3.6"/><circle cx="386.3" cy="269.0" r="3.3"/><circle cx="370.1" cy="291.6" r="1.6"/><circle cx="370.1" cy="206.7" r="2.1"/><circle cx="389.4" cy="267.2" r="2.3"/><circle cx="383.6" cy="210.7" r="3.5"/><circle cx="366.9" cy="287.5" r="2.7"/><circle cx="388.6" cy="253.7" r="2.1"/><circle cx="366.3" cy="279.7" r="2.2"/><circle cx="405.7" cy="222.2" r="2.3"/><circle cx="402.4" cy="216.8" r="2.7"/><circle cx="375.7" cy="264.6" r="3.1"/><circle cx="379.5" cy="256.8" r="3.2"/><circle cx="383.9" cy="212.6" r="2.4"/><circle cx="389.0" cy="215.6" r="2.6"/><circle cx="373.4" cy="254.5" r="2.3"/><circle cx="392.7" cy="202.2" r="2.9"/><circle cx="390.6" cy="244.8" r="2.4"/><circle cx="391.8" cy="266.4" r="3.1"/><circle cx="398.3" cy="246.4" r="2.8"/><circle cx="380.9" cy="241.2" r="2.7"/><circle cx="386.8" cy="241.1" r="3.4"/><circle cx="376.4" cy="203.9" r="3.1"/><circle cx="390.5" cy="272.6" r="2.2"/><circle cx="390.3" cy="205.4" r="1.8"/><circle cx="382.8" cy="248.0" r="2.4"/><circle cx="362.7" cy="266.9" r="2.7"/><circle cx="372.2" cy="228.7" r="2.4"/><circle cx="372.0" cy="205.2" r="3.4"/><circle cx="401.1" cy="220.3" r="3.1"/><circle cx="388.9" cy="287.5" r="1.8"/><circle cx="400.4" cy="210.7" r="2.7"/><circle cx="372.4" cy="228.0" r="2.2"/><circle cx="401.6" cy="237.6" r="1.8"/><circle cx="389.9" cy="203.0" r="1.7"/><circle cx="385.4" cy="290.5" r="3.6"/><circle cx="384.1" cy="218.8" r="2.2"/><circle cx="370.0" cy="281.0" r="2.3"/><circle cx="384.1" cy="215.4" r="3.4"/><circle cx="392.3" cy="217.4" r="3.4"/><circle cx="397.0" cy="229.3" r="3.4"/><circle cx="366.9" cy="267.1" r="3.5"/><circle cx="382.7" cy="206.3" r="2.0"/><circle cx="375.7" cy="268.5" r="2.0"/><circle cx="369.2" cy="221.7" r="2.7"/><circle cx="400.3" cy="235.2" r="2.9"/><circle cx="371.7" cy="228.1" r="3.5"/><circle cx="394.0" cy="225.8" r="2.9"/><circle cx="382.5" cy="250.5" r="2.7"/><circle cx="362.3" cy="257.6" r="2.2"/><circle cx="372.8" cy="277.6" r="1.8"/><circle cx="374.5" cy="272.9" r="2.1"/><circle cx="374.2" cy="252.5" r="2.0"/><circle cx="398.3" cy="236.4" r="3.5"/><circle cx="385.5" cy="216.2" r="2.7"/><circle cx="392.9" cy="233.9" r="2.9"/><circle cx="385.8" cy="281.8" r="3.0"/><circle cx="386.5" cy="292.2" r="1.9"/><circle cx="399.8" cy="214.8" r="2.8"/><circle cx="372.0" cy="241.9" r="3.1"/><circle cx="400.1" cy="276.4" r="2.1"/><circle cx="384.9" cy="220.3" r="2.8"/><circle cx="385.4" cy="202.0" r="2.8"/><circle cx="396.5" cy="254.9" r="3.3"/><circle cx="369.2" cy="213.5" r="1.6"/><circle cx="385.3" cy="241.3" r="2.5"/><circle cx="373.4" cy="277.2" r="1.7"/><circle cx="387.7" cy="276.5" r="2.1"/><circle cx="391.7" cy="250.3" r="2.1"/><circle cx="390.0" cy="207.2" r="3.2"/><circle cx="368.8" cy="223.6" r="1.9"/><circle cx="395.2" cy="280.3" r="3.2"/><circle cx="378.6" cy="219.8" r="3.5"/><circle cx="367.4" cy="243.3" r="3.1"/><circle cx="405.4" cy="212.4" r="2.4"/><circle cx="375.2" cy="240.3" r="1.8"/><circle cx="398.9" cy="270.8" r="2.1"/><circle cx="372.9" cy="252.9" r="2.1"/><circle cx="383.5" cy="290.3" r="2.3"/><circle cx="391.2" cy="202.4" r="2.4"/><circle cx="393.1" cy="204.3" r="2.3"/><circle cx="395.4" cy="283.6" r="2.8"/><circle cx="380.0" cy="281.5" r="2.4"/><circle cx="399.8" cy="219.7" r="2.3"/><circle cx="369.4" cy="252.6" r="1.9"/><circle cx="370.4" cy="219.6" r="2.5"/><circle cx="375.7" cy="242.5" r="3.6"/><circle cx="394.6" cy="283.5" r="2.0"/><circle cx="379.5" cy="205.7" r="3.0"/><circle cx="378.5" cy="225.5" r="1.6"/><circle cx="369.3" cy="224.3" r="2.4"/><circle cx="373.7" cy="234.1" r="1.9"/><circle cx="399.1" cy="269.8" r="3.1"/><circle cx="379.6" cy="206.7" r="3.4"/><circle cx="376.6" cy="274.4" r="2.6"/><circle cx="372.2" cy="202.5" r="1.9"/><circle cx="390.4" cy="201.6" r="2.2"/><circle cx="381.6" cy="252.1" r="1.9"/><circle cx="396.0" cy="224.1" r="3.1"/><circle cx="394.0" cy="213.0" r="2.0"/><circle cx="374.3" cy="268.7" r="2.4"/><circle cx="379.7" cy="283.8" r="2.1"/><circle cx="374.9" cy="232.5" r="2.0"/><circle cx="392.2" cy="254.2" r="3.2"/><circle cx="394.2" cy="289.0" r="1.5"/><circle cx="395.1" cy="264.2" r="3.5"/><circle cx="404.3" cy="221.6" r="2.9"/><circle cx="380.0" cy="204.4" r="2.4"/><circle cx="376.7" cy="247.5" r="2.2"/><circle cx="368.1" cy="238.1" r="2.3"/><circle cx="368.5" cy="264.0" r="2.1"/><circle cx="381.5" cy="213.4" r="2.8"/><circle cx="395.8" cy="253.0" r="3.0"/><circle cx="378.6" cy="204.7" r="2.4"/><circle cx="389.9" cy="244.7" r="2.3"/><circle cx="377.7" cy="286.3" r="2.7"/><circle cx="373.4" cy="264.3" r="2.0"/><circle cx="383.9" cy="259.1" r="3.5"/><circle cx="378.5" cy="255.3" r="3.5"/><circle cx="399.3" cy="260.3" r="1.2"/><circle cx="381.0" cy="239.4" r="2.2"/><circle cx="379.5" cy="288.1" r="1.7"/><circle cx="366.9" cy="248.4" r="2.2"/><circle cx="378.4" cy="294.7" r="1.6"/><circle cx="369.8" cy="221.0" r="3.0"/><circle cx="387.7" cy="237.3" r="2.1"/><circle cx="385.2" cy="262.5" r="2.7"/><circle cx="391.8" cy="253.7" r="3.3"/><circle cx="377.7" cy="285.8" r="2.2"/><circle cx="396.5" cy="267.0" r="3.0"/><circle cx="368.1" cy="259.7" r="2.6"/><circle cx="388.8" cy="234.9" r="2.2"/><circle cx="398.2" cy="251.1" r="2.1"/><circle cx="372.7" cy="230.5" r="2.0"/><circle cx="386.2" cy="210.9" r="1.7"/><circle cx="395.9" cy="209.6" r="2.5"/><circle cx="399.4" cy="245.8" r="1.8"/><circle cx="385.9" cy="277.0" r="2.4"/><circle cx="396.5" cy="223.3" r="3.0"/><circle cx="376.7" cy="231.4" r="3.1"/><circle cx="388.9" cy="239.9" r="3.0"/><circle cx="391.8" cy="280.4" r="3.2"/><circle cx="394.1" cy="221.3" r="2.0"/><circle cx="366.8" cy="266.2" r="2.4"/><circle cx="392.2" cy="237.6" r="3.5"/><circle cx="396.4" cy="210.2" r="1.7"/><circle cx="374.6" cy="270.5" r="3.6"/><circle cx="384.6" cy="235.3" r="2.2"/><circle cx="400.8" cy="281.1" r="2.0"/><circle cx="380.0" cy="259.3" r="3.1"/><circle cx="395.4" cy="252.3" r="3.2"/><circle cx="367.5" cy="215.7" r="1.4"/><circle cx="384.9" cy="210.4" r="2.2"/><circle cx="367.3" cy="260.1" r="2.1"/><circle cx="371.6" cy="246.0" r="2.3"/><circle cx="373.2" cy="203.5" r="1.7"/><circle cx="370.3" cy="283.9" r="2.6"/><circle cx="381.1" cy="278.0" r="2.4"/><circle cx="362.9" cy="252.7" r="1.5"/><circle cx="391.8" cy="225.8" r="3.5"/><circle cx="382.6" cy="280.6" r="3.0"/><circle cx="368.6" cy="210.2" r="1.7"/><circle cx="378.3" cy="272.7" r="2.2"/><circle cx="386.2" cy="199.5" r="1.8"/><circle cx="386.9" cy="278.3" r="3.2"/><circle cx="397.5" cy="237.8" r="3.2"/><circle cx="396.0" cy="223.2" r="3.4"/><circle cx="371.6" cy="236.8" r="2.3"/><circle cx="393.5" cy="278.4" r="2.3"/><circle cx="392.5" cy="233.4" r="2.2"/><circle cx="397.8" cy="219.3" r="3.1"/><circle cx="387.9" cy="265.5" r="2.0"/><circle cx="377.9" cy="240.9" r="1.6"/><circle cx="385.6" cy="238.2" r="2.2"/><circle cx="387.4" cy="292.3" r="2.0"/><circle cx="398.5" cy="209.2" r="3.6"/><circle cx="381.9" cy="293.3" r="2.0"/><circle cx="380.8" cy="268.0" r="2.0"/><circle cx="373.9" cy="265.2" r="3.5"/><circle cx="376.4" cy="216.6" r="2.3"/><circle cx="410.5" cy="213.1" r="1.3"/><circle cx="379.3" cy="261.9" r="2.0"/><circle cx="391.4" cy="285.9" r="3.3"/><circle cx="392.1" cy="248.2" r="2.7"/><circle cx="365.8" cy="281.0" r="3.0"/><circle cx="383.1" cy="264.0" r="2.4"/><circle cx="379.6" cy="221.2" r="2.8"/><circle cx="389.2" cy="249.3" r="1.7"/><circle cx="392.0" cy="242.5" r="2.8"/><circle cx="390.3" cy="290.3" r="1.9"/><circle cx="383.9" cy="296.3" r="1.4"/><circle cx="376.0" cy="271.1" r="3.6"/><circle cx="380.5" cy="283.9" r="1.9"/><circle cx="371.9" cy="281.3" r="2.9"/><circle cx="372.8" cy="278.0" r="2.5"/><circle cx="387.4" cy="283.8" r="2.0"/><circle cx="374.3" cy="261.9" r="1.7"/><circle cx="388.3" cy="276.0" r="2.6"/><circle cx="372.3" cy="277.3" r="3.3"/><circle cx="399.3" cy="252.6" r="1.3"/><circle cx="400.6" cy="213.4" r="2.3"/><circle cx="377.6" cy="283.7" r="3.3"/><circle cx="379.8" cy="282.1" r="2.8"/><circle cx="406.0" cy="205.6" r="2.2"/><circle cx="370.5" cy="260.5" r="3.4"/><circle cx="397.1" cy="217.9" r="2.9"/><circle cx="382.0" cy="200.0" r="2.0"/><circle cx="376.1" cy="260.5" r="2.2"/><circle cx="390.8" cy="266.9" r="2.0"/><circle cx="366.5" cy="266.8" r="2.5"/><circle cx="378.2" cy="217.8" r="3.6"/><circle cx="395.3" cy="271.0" r="2.3"/><circle cx="375.8" cy="238.7" r="1.9"/><circle cx="392.2" cy="240.3" r="3.2"/><circle cx="380.9" cy="243.5" r="2.6"/><circle cx="395.9" cy="221.7" r="2.8"/><circle cx="374.5" cy="284.5" r="2.2"/><circle cx="383.2" cy="290.5" r="2.4"/><circle cx="397.9" cy="257.7" r="2.3"/><circle cx="374.3" cy="241.9" r="3.5"/><circle cx="374.9" cy="266.9" r="2.9"/><circle cx="372.5" cy="239.0" r="1.9"/><circle cx="405.7" cy="223.3" r="2.1"/><circle cx="377.4" cy="279.3" r="3.3"/><circle cx="390.1" cy="252.3" r="1.8"/><circle cx="405.7" cy="207.2" r="2.3"/><circle cx="379.1" cy="269.7" r="2.9"/><circle cx="377.5" cy="286.9" r="3.5"/><circle cx="361.2" cy="260.9" r="1.6"/><circle cx="378.4" cy="244.3" r="2.2"/><circle cx="394.2" cy="258.1" r="3.5"/><circle cx="380.2" cy="280.1" r="2.9"/><circle cx="380.5" cy="263.1" r="2.0"/><circle cx="378.9" cy="212.6" r="2.4"/><circle cx="397.8" cy="206.7" r="1.9"/><circle cx="393.1" cy="259.9" r="3.1"/><circle cx="372.9" cy="278.4" r="3.1"/><circle cx="399.6" cy="210.3" r="2.5"/><circle cx="387.3" cy="251.1" r="1.8"/><circle cx="400.3" cy="228.2" r="2.6"/><circle cx="366.4" cy="254.4" r="1.9"/><circle cx="364.5" cy="249.0" r="2.0"/><circle cx="399.7" cy="222.8" r="2.4"/><circle cx="383.0" cy="253.5" r="2.5"/><circle cx="403.4" cy="208.8" r="3.3"/><circle cx="386.8" cy="238.5" r="2.8"/><circle cx="381.1" cy="199.6" r="1.5"/><circle cx="396.3" cy="213.9" r="2.7"/><circle cx="375.3" cy="293.7" r="1.5"/><circle cx="403.2" cy="203.0" r="2.0"/><circle cx="365.7" cy="289.0" r="1.3"/><circle cx="384.9" cy="262.9" r="3.4"/><circle cx="385.5" cy="287.5" r="2.4"/><circle cx="375.3" cy="271.3" r="2.1"/><circle cx="378.8" cy="240.8" r="2.6"/><circle cx="378.3" cy="240.9" r="2.5"/><circle cx="362.5" cy="280.8" r="1.3"/><circle cx="386.9" cy="252.4" r="2.4"/><circle cx="371.4" cy="208.3" r="2.3"/><circle cx="376.0" cy="246.2" r="2.1"/><circle cx="398.2" cy="246.5" r="1.6"/><circle cx="380.7" cy="293.7" r="1.6"/><circle cx="378.6" cy="257.4" r="2.3"/><circle cx="375.4" cy="258.5" r="2.8"/><circle cx="376.1" cy="247.5" r="2.6"/><circle cx="398.4" cy="203.7" r="1.8"/><circle cx="372.9" cy="225.1" r="3.2"/><circle cx="381.7" cy="283.2" r="2.4"/><circle cx="374.6" cy="265.5" r="1.8"/><circle cx="376.7" cy="229.8" r="3.2"/><circle cx="362.9" cy="273.7" r="1.7"/><circle cx="391.9" cy="252.9" r="3.5"/><circle cx="392.6" cy="200.7" r="3.2"/><circle cx="398.4" cy="255.6" r="1.6"/><circle cx="397.6" cy="239.7" r="3.0"/><circle cx="363.8" cy="275.5" r="2.5"/><circle cx="398.3" cy="235.7" r="2.5"/><circle cx="382.3" cy="210.1" r="2.2"/><circle cx="397.5" cy="205.5" r="1.8"/><circle cx="388.0" cy="209.7" r="1.8"/><circle cx="375.8" cy="292.5" r="2.7"/><circle cx="407.0" cy="219.3" r="2.2"/><circle cx="387.4" cy="281.2" r="1.8"/><circle cx="379.3" cy="264.9" r="3.5"/><circle cx="385.2" cy="266.4" r="2.4"/><circle cx="399.7" cy="208.9" r="3.1"/><circle cx="368.5" cy="256.2" r="2.0"/><circle cx="377.7" cy="214.6" r="2.3"/><circle cx="390.2" cy="249.7" r="2.4"/><circle cx="389.3" cy="281.5" r="2.3"/><circle cx="389.8" cy="245.8" r="3.6"/><circle cx="376.7" cy="267.2" r="2.1"/><circle cx="373.3" cy="270.4" r="2.7"/><circle cx="373.1" cy="204.8" r="3.2"/><circle cx="379.3" cy="269.1" r="2.5"/><circle cx="391.5" cy="253.6" r="3.6"/><circle cx="384.8" cy="221.3" r="3.1"/><circle cx="395.6" cy="254.5" r="2.7"/><circle cx="377.0" cy="213.4" r="3.5"/><circle cx="399.0" cy="277.9" r="1.8"/><circle cx="400.0" cy="220.0" r="2.0"/><circle cx="387.3" cy="258.6" r="1.8"/><circle cx="399.0" cy="255.9" r="1.4"/><circle cx="378.6" cy="292.2" r="3.0"/><circle cx="374.8" cy="283.0" r="3.1"/><circle cx="373.5" cy="223.0" r="1.6"/><circle cx="387.4" cy="223.5" r="2.2"/><circle cx="372.9" cy="211.5" r="2.6"/><circle cx="373.9" cy="226.6" r="2.2"/><circle cx="386.0" cy="284.6" r="1.9"/><circle cx="391.1" cy="252.1" r="3.1"/><circle cx="387.3" cy="263.5" r="3.4"/><circle cx="399.5" cy="224.1" r="1.7"/><circle cx="400.2" cy="221.5" r="2.5"/><circle cx="378.9" cy="270.3" r="3.5"/><circle cx="385.8" cy="254.3" r="2.3"/><circle cx="371.8" cy="292.1" r="1.8"/><circle cx="365.2" cy="254.2" r="1.8"/><circle cx="404.5" cy="204.6" r="2.3"/><circle cx="394.9" cy="282.7" r="3.2"/><circle cx="386.6" cy="206.1" r="2.7"/><circle cx="369.4" cy="250.4" r="2.3"/><circle cx="385.4" cy="218.0" r="3.0"/><circle cx="381.3" cy="246.4" r="1.8"/><circle cx="384.8" cy="253.4" r="3.5"/><circle cx="388.6" cy="211.8" r="2.2"/><circle cx="377.1" cy="267.7" r="3.5"/><circle cx="385.0" cy="256.7" r="3.0"/><circle cx="391.2" cy="258.9" r="3.5"/><circle cx="364.4" cy="249.6" r="2.1"/><circle cx="386.5" cy="255.6" r="3.1"/><circle cx="363.5" cy="276.7" r="3.1"/><circle cx="377.1" cy="232.7" r="1.6"/><circle cx="399.3" cy="224.3" r="2.8"/><circle cx="386.8" cy="231.5" r="2.9"/><circle cx="383.2" cy="221.6" r="3.4"/><circle cx="369.0" cy="213.3" r="2.1"/><circle cx="384.4" cy="275.7" r="2.3"/><circle cx="314.5" cy="280.8" r="2.1"/><circle cx="333.0" cy="263.2" r="3.4"/><circle cx="311.0" cy="262.2" r="2.2"/><circle cx="320.4" cy="284.0" r="2.9"/><circle cx="304.1" cy="285.6" r="2.1"/><circle cx="313.2" cy="270.2" r="3.6"/><circle cx="323.1" cy="267.7" r="3.4"/><circle cx="307.8" cy="286.7" r="3.2"/><circle cx="321.0" cy="286.8" r="2.4"/><circle cx="317.7" cy="278.1" r="3.1"/><circle cx="329.9" cy="288.0" r="1.6"/><circle cx="331.4" cy="268.7" r="1.7"/><circle cx="358.4" cy="258.3" r="2.0"/><circle cx="359.5" cy="267.0" r="3.1"/><circle cx="308.2" cy="283.4" r="3.5"/><circle cx="328.5" cy="268.4" r="1.8"/><circle cx="316.7" cy="293.3" r="1.7"/><circle cx="311.0" cy="267.3" r="1.7"/><circle cx="319.0" cy="260.0" r="1.8"/><circle cx="333.2" cy="275.8" r="2.7"/><circle cx="360.6" cy="255.6" r="2.0"/><circle cx="304.0" cy="265.6" r="3.1"/><circle cx="309.4" cy="266.5" r="2.7"/><circle cx="318.1" cy="286.9" r="3.5"/><circle cx="328.9" cy="278.5" r="3.3"/><circle cx="329.2" cy="260.4" r="3.5"/><circle cx="348.6" cy="269.6" r="1.7"/><circle cx="346.9" cy="261.3" r="1.6"/><circle cx="313.3" cy="287.2" r="2.6"/><circle cx="341.4" cy="272.5" r="2.0"/><circle cx="300.0" cy="265.4" r="1.5"/><circle cx="315.9" cy="279.2" r="2.3"/><circle cx="329.7" cy="279.5" r="2.2"/><circle cx="322.2" cy="290.9" r="2.8"/><circle cx="326.1" cy="275.8" r="2.5"/><circle cx="320.6" cy="292.2" r="2.1"/><circle cx="356.3" cy="259.2" r="2.6"/><circle cx="363.0" cy="264.7" r="1.2"/><circle cx="346.0" cy="262.3" r="2.8"/><circle cx="309.2" cy="293.7" r="1.3"/><circle cx="305.3" cy="282.2" r="2.3"/><circle cx="335.4" cy="273.9" r="3.4"/><circle cx="332.4" cy="268.7" r="1.6"/><circle cx="331.3" cy="263.8" r="2.7"/><circle cx="340.1" cy="272.3" r="1.8"/><circle cx="331.3" cy="273.2" r="2.9"/><circle cx="362.1" cy="264.3" r="2.2"/><circle cx="304.5" cy="287.2" r="2.1"/><circle cx="315.6" cy="291.7" r="2.6"/><circle cx="326.7" cy="276.4" r="3.5"/><circle cx="330.8" cy="273.2" r="2.2"/><circle cx="321.3" cy="260.6" r="2.0"/><circle cx="343.5" cy="287.1" r="2.7"/><circle cx="310.5" cy="287.8" r="2.2"/><circle cx="314.9" cy="292.5" r="1.6"/><circle cx="332.3" cy="267.1" r="3.2"/><circle cx="303.2" cy="281.4" r="1.8"/><circle cx="319.2" cy="260.2" r="3.0"/><circle cx="339.5" cy="257.5" r="3.1"/><circle cx="349.0" cy="286.6" r="2.9"/><circle cx="340.5" cy="273.6" r="2.4"/><circle cx="309.5" cy="287.0" r="2.1"/><circle cx="341.5" cy="286.1" r="1.6"/><circle cx="332.5" cy="265.9" r="2.1"/><circle cx="311.2" cy="280.5" r="3.0"/><circle cx="360.2" cy="266.5" r="2.7"/><circle cx="358.2" cy="264.8" r="3.5"/><circle cx="349.3" cy="266.7" r="2.2"/><circle cx="333.0" cy="273.5" r="1.7"/><circle cx="329.7" cy="284.8" r="2.1"/><circle cx="312.0" cy="277.6" r="2.1"/><circle cx="302.4" cy="267.6" r="2.7"/><circle cx="325.9" cy="269.9" r="2.1"/><circle cx="329.8" cy="294.2" r="1.8"/><circle cx="327.1" cy="282.2" r="3.1"/><circle cx="335.1" cy="280.2" r="3.5"/><circle cx="357.7" cy="263.1" r="2.7"/><circle cx="311.3" cy="285.7" r="1.7"/><circle cx="308.8" cy="276.3" r="2.1"/><circle cx="345.8" cy="284.0" r="2.2"/><circle cx="348.9" cy="280.5" r="2.6"/><circle cx="328.7" cy="271.0" r="1.8"/><circle cx="329.9" cy="294.0" r="2.0"/><circle cx="316.5" cy="282.6" r="2.5"/><circle cx="307.3" cy="270.7" r="2.7"/><circle cx="347.4" cy="269.7" r="2.9"/><circle cx="343.3" cy="279.1" r="1.7"/><circle cx="345.2" cy="257.7" r="1.7"/><circle cx="303.7" cy="269.2" r="2.5"/><circle cx="337.2" cy="265.9" r="3.6"/><circle cx="306.8" cy="265.4" r="2.0"/><circle cx="325.7" cy="269.5" r="3.4"/><circle cx="315.7" cy="286.8" r="3.0"/><circle cx="328.1" cy="268.1" r="2.5"/><circle cx="328.4" cy="265.9" r="2.8"/><circle cx="325.7" cy="265.4" r="3.1"/><circle cx="328.6" cy="272.8" r="3.4"/><circle cx="328.6" cy="268.5" r="3.4"/><circle cx="325.1" cy="281.5" r="3.1"/><circle cx="318.3" cy="283.9" r="3.5"/><circle cx="341.6" cy="281.4" r="2.5"/><circle cx="341.5" cy="261.9" r="3.1"/><circle cx="321.2" cy="283.3" r="1.6"/><circle cx="326.0" cy="285.7" r="2.1"/><circle cx="338.9" cy="261.7" r="2.4"/><circle cx="358.3" cy="254.6" r="2.8"/><circle cx="324.4" cy="278.0" r="3.0"/><circle cx="348.5" cy="284.9" r="2.8"/><circle cx="315.4" cy="283.0" r="2.7"/><circle cx="307.9" cy="286.3" r="2.2"/><circle cx="316.8" cy="277.0" r="2.7"/><circle cx="331.2" cy="259.4" r="2.9"/><circle cx="317.8" cy="287.5" r="2.4"/><circle cx="308.4" cy="278.7" r="2.5"/><circle cx="321.9" cy="285.4" r="1.8"/><circle cx="318.5" cy="282.4" r="3.0"/><circle cx="352.8" cy="268.7" r="2.1"/><circle cx="322.3" cy="275.6" r="1.6"/><circle cx="323.3" cy="280.9" r="1.9"/><circle cx="319.2" cy="290.4" r="3.5"/><circle cx="315.2" cy="259.8" r="1.8"/><circle cx="304.6" cy="286.9" r="3.1"/><circle cx="316.2" cy="273.5" r="3.0"/><circle cx="354.9" cy="261.3" r="3.0"/><circle cx="344.5" cy="266.8" r="3.4"/><circle cx="313.2" cy="272.9" r="2.2"/><circle cx="327.7" cy="287.7" r="2.7"/><circle cx="313.5" cy="261.8" r="2.8"/><circle cx="321.2" cy="271.4" r="2.5"/><circle cx="343.0" cy="259.5" r="2.3"/><circle cx="344.9" cy="261.5" r="3.4"/><circle cx="355.7" cy="262.0" r="2.3"/><circle cx="313.9" cy="283.6" r="1.7"/><circle cx="344.2" cy="254.8" r="2.0"/><circle cx="334.3" cy="277.7" r="1.8"/><circle cx="301.9" cy="267.5" r="3.6"/><circle cx="310.5" cy="264.0" r="2.9"/><circle cx="344.2" cy="266.2" r="2.5"/><circle cx="317.8" cy="276.7" r="2.3"/><circle cx="322.4" cy="263.0" r="2.2"/><circle cx="319.2" cy="278.0" r="2.1"/><circle cx="306.3" cy="289.2" r="2.5"/><circle cx="332.3" cy="265.7" r="3.4"/><circle cx="348.0" cy="279.4" r="2.5"/><circle cx="344.0" cy="274.0" r="2.2"/><circle cx="324.4" cy="274.2" r="2.5"/><circle cx="333.4" cy="275.5" r="3.2"/><circle cx="357.0" cy="261.9" r="1.6"/><circle cx="317.6" cy="260.4" r="3.1"/><circle cx="344.0" cy="284.8" r="2.5"/><circle cx="324.8" cy="276.3" r="3.4"/><circle cx="353.3" cy="255.3" r="2.1"/><circle cx="332.5" cy="265.6" r="3.3"/><circle cx="324.3" cy="280.1" r="1.8"/><circle cx="327.3" cy="285.5" r="2.8"/><circle cx="336.9" cy="259.6" r="2.5"/><circle cx="313.1" cy="271.7" r="2.7"/><circle cx="320.9" cy="277.4" r="2.9"/><circle cx="341.7" cy="261.4" r="1.7"/><circle cx="348.5" cy="266.7" r="3.5"/><circle cx="335.3" cy="256.5" r="2.9"/><circle cx="316.0" cy="287.8" r="3.0"/><circle cx="348.3" cy="254.5" r="1.7"/><circle cx="350.9" cy="258.2" r="2.0"/><circle cx="329.8" cy="294.2" r="2.0"/><circle cx="315.9" cy="288.4" r="2.0"/><circle cx="340.3" cy="279.1" r="3.5"/><circle cx="301.8" cy="276.8" r="2.4"/><circle cx="352.5" cy="263.1" r="3.0"/><circle cx="311.0" cy="273.8" r="3.5"/><circle cx="314.6" cy="264.3" r="3.4"/><circle cx="342.8" cy="254.9" r="2.0"/><circle cx="314.4" cy="264.8" r="3.3"/><circle cx="342.5" cy="279.6" r="2.4"/><circle cx="345.6" cy="273.7" r="1.4"/><circle cx="331.0" cy="268.9" r="2.7"/><circle cx="320.5" cy="258.5" r="1.9"/><circle cx="358.5" cy="259.9" r="2.6"/><circle cx="331.5" cy="285.7" r="2.7"/><circle cx="314.5" cy="260.3" r="2.4"/><circle cx="329.4" cy="289.1" r="2.8"/><circle cx="347.5" cy="285.5" r="3.0"/><circle cx="356.0" cy="268.8" r="1.8"/><circle cx="317.6" cy="260.4" r="1.8"/><circle cx="312.0" cy="280.2" r="1.9"/><circle cx="310.0" cy="275.6" r="2.4"/><circle cx="308.7" cy="277.0" r="2.6"/><circle cx="324.2" cy="272.9" r="1.7"/><circle cx="339.0" cy="260.5" r="2.3"/><circle cx="337.2" cy="269.3" r="2.7"/><circle cx="360.1" cy="257.8" r="2.4"/><circle cx="345.0" cy="268.4" r="3.0"/><circle cx="358.0" cy="253.8" r="2.2"/><circle cx="318.0" cy="285.0" r="3.2"/><circle cx="311.1" cy="269.3" r="3.3"/><circle cx="348.8" cy="257.0" r="3.6"/><circle cx="322.5" cy="278.6" r="3.5"/><circle cx="361.4" cy="258.3" r="2.4"/><circle cx="335.7" cy="257.8" r="3.2"/><circle cx="303.0" cy="279.7" r="2.2"/><circle cx="320.0" cy="278.7" r="2.0"/><circle cx="328.1" cy="289.7" r="3.6"/><circle cx="316.1" cy="268.1" r="3.0"/><circle cx="311.3" cy="289.4" r="2.0"/><circle cx="335.2" cy="266.9" r="1.6"/><circle cx="320.3" cy="264.1" r="3.6"/><circle cx="340.4" cy="254.9" r="2.1"/><circle cx="314.1" cy="273.2" r="3.0"/><circle cx="326.4" cy="266.0" r="2.4"/><circle cx="319.3" cy="284.6" r="2.5"/><circle cx="343.6" cy="258.7" r="3.2"/><circle cx="361.8" cy="260.9" r="2.8"/><circle cx="325.9" cy="260.1" r="3.1"/><circle cx="336.2" cy="281.7" r="3.0"/><circle cx="301.3" cy="272.2" r="3.2"/><circle cx="343.4" cy="276.1" r="3.3"/><circle cx="323.2" cy="257.0" r="1.4"/><circle cx="300.7" cy="262.1" r="1.4"/><circle cx="333.6" cy="257.6" r="2.8"/><circle cx="340.7" cy="315.6" r="1.6"/><circle cx="336.1" cy="326.4" r="3.4"/><circle cx="332.6" cy="322.3" r="3.3"/><circle cx="336.3" cy="333.3" r="1.2"/><circle cx="339.2" cy="323.7" r="2.5"/><circle cx="323.9" cy="322.8" r="2.6"/><circle cx="331.3" cy="307.6" r="1.3"/><circle cx="334.2" cy="325.1" r="3.6"/><circle cx="339.8" cy="314.1" r="1.4"/><circle cx="331.2" cy="328.5" r="2.4"/><circle cx="343.6" cy="319.6" r="1.6"/><circle cx="330.4" cy="316.0" r="3.6"/><circle cx="317.4" cy="317.2" r="1.8"/><circle cx="320.5" cy="317.9" r="2.8"/><circle cx="338.9" cy="318.4" r="2.2"/><circle cx="327.0" cy="330.9" r="2.0"/><circle cx="330.5" cy="309.7" r="1.9"/><circle cx="342.7" cy="327.0" r="1.7"/><circle cx="336.3" cy="312.0" r="2.1"/><circle cx="320.3" cy="327.8" r="1.8"/><circle cx="317.1" cy="324.3" r="1.9"/><circle cx="343.0" cy="328.1" r="2.0"/><circle cx="317.4" cy="322.9" r="2.5"/><circle cx="325.0" cy="331.7" r="2.0"/><circle cx="334.5" cy="315.0" r="3.0"/><circle cx="343.1" cy="328.3" r="1.7"/><circle cx="331.1" cy="309.9" r="2.7"/><circle cx="323.5" cy="321.5" r="2.2"/><circle cx="321.1" cy="326.8" r="3.1"/><circle cx="326.1" cy="317.8" r="3.0"/><circle cx="337.8" cy="319.0" r="1.8"/><circle cx="318.9" cy="310.7" r="1.3"/><circle cx="330.9" cy="324.0" r="2.3"/><circle cx="327.1" cy="310.9" r="3.5"/><circle cx="334.2" cy="309.6" r="1.7"/><circle cx="333.9" cy="323.2" r="3.1"/><circle cx="334.3" cy="330.5" r="3.5"/><circle cx="328.2" cy="324.2" r="2.3"/><circle cx="328.3" cy="316.3" r="2.9"/><circle cx="326.6" cy="315.9" r="3.3"/><circle cx="340.0" cy="324.9" r="3.3"/><circle cx="327.6" cy="324.0" r="2.1"/><circle cx="325.5" cy="308.8" r="3.2"/><circle cx="327.3" cy="309.3" r="1.9"/><circle cx="335.1" cy="331.0" r="1.8"/><circle cx="323.6" cy="327.3" r="2.1"/><circle cx="330.2" cy="311.6" r="2.2"/><circle cx="328.7" cy="313.8" r="3.1"/><circle cx="316.9" cy="323.9" r="2.0"/><circle cx="325.8" cy="311.4" r="1.8"/><circle cx="329.6" cy="322.8" r="2.2"/><circle cx="317.0" cy="317.8" r="1.7"/><circle cx="343.7" cy="330.3" r="1.7"/><circle cx="319.8" cy="328.6" r="1.5"/><circle cx="332.7" cy="308.7" r="1.8"/><circle cx="328.3" cy="310.4" r="3.6"/><circle cx="333.3" cy="331.1" r="3.5"/><circle cx="338.7" cy="324.1" r="2.5"/><circle cx="339.3" cy="324.7" r="1.9"/><circle cx="331.9" cy="317.6" r="2.6"/><circle cx="337.4" cy="325.3" r="2.7"/><circle cx="339.7" cy="329.1" r="1.8"/><circle cx="325.3" cy="318.3" r="2.5"/><circle cx="332.9" cy="313.8" r="3.2"/><circle cx="326.0" cy="329.7" r="3.2"/><circle cx="318.1" cy="313.5" r="2.4"/><circle cx="333.7" cy="324.7" r="2.4"/><circle cx="378.5" cy="301.5" r="2.5"/><circle cx="371.0" cy="319.0" r="1.5"/><circle cx="367.5" cy="301.3" r="2.7"/><circle cx="374.5" cy="299.9" r="3.3"/><circle cx="367.0" cy="300.1" r="2.1"/><circle cx="377.2" cy="298.7" r="2.3"/><circle cx="370.5" cy="318.0" r="2.0"/><circle cx="385.8" cy="310.2" r="2.5"/><circle cx="377.0" cy="307.7" r="2.5"/><circle cx="372.9" cy="315.0" r="1.9"/><circle cx="364.9" cy="308.3" r="2.3"/><circle cx="375.8" cy="328.9" r="2.6"/><circle cx="364.5" cy="305.7" r="2.1"/><circle cx="372.5" cy="299.1" r="2.8"/><circle cx="387.6" cy="308.1" r="2.0"/><circle cx="385.5" cy="302.5" r="3.0"/><circle cx="369.0" cy="305.7" r="3.1"/><circle cx="384.7" cy="305.2" r="2.5"/><circle cx="373.8" cy="311.5" r="3.2"/><circle cx="367.1" cy="305.2" r="2.5"/><circle cx="365.0" cy="304.6" r="2.2"/><circle cx="375.6" cy="328.9" r="2.5"/><circle cx="373.3" cy="302.4" r="1.7"/><circle cx="365.1" cy="309.3" r="2.7"/><circle cx="375.0" cy="314.9" r="2.2"/><circle cx="373.2" cy="312.2" r="2.4"/><circle cx="371.3" cy="295.9" r="2.2"/><circle cx="372.1" cy="298.3" r="1.7"/><circle cx="388.7" cy="307.3" r="2.5"/><circle cx="379.5" cy="312.3" r="2.3"/><circle cx="385.1" cy="312.6" r="2.7"/><circle cx="376.8" cy="313.7" r="2.8"/><circle cx="378.6" cy="324.3" r="2.3"/><circle cx="381.2" cy="316.1" r="2.8"/><circle cx="365.0" cy="311.6" r="2.4"/><circle cx="379.7" cy="299.3" r="3.1"/><circle cx="377.6" cy="321.2" r="2.2"/><circle cx="371.5" cy="297.0" r="3.0"/><circle cx="364.6" cy="311.7" r="2.0"/><circle cx="376.3" cy="304.1" r="2.9"/><circle cx="366.7" cy="306.3" r="2.4"/><circle cx="377.1" cy="310.1" r="2.8"/><circle cx="370.1" cy="303.0" r="2.5"/><circle cx="382.0" cy="316.4" r="2.0"/><circle cx="370.4" cy="303.0" r="3.2"/><circle cx="389.3" cy="303.7" r="1.8"/><circle cx="384.1" cy="311.5" r="3.1"/><circle cx="385.5" cy="312.8" r="2.1"/><circle cx="378.6" cy="318.5" r="2.2"/><circle cx="381.9" cy="299.4" r="3.5"/><circle cx="369.6" cy="302.4" r="3.5"/><circle cx="384.5" cy="312.1" r="3.4"/><circle cx="383.4" cy="307.6" r="2.9"/><circle cx="376.8" cy="301.6" r="2.5"/><circle cx="383.1" cy="314.3" r="1.8"/><circle cx="363.7" cy="308.7" r="1.3"/><circle cx="370.1" cy="302.2" r="2.4"/><circle cx="373.7" cy="306.6" r="1.7"/><circle cx="382.7" cy="316.4" r="1.3"/><circle cx="381.1" cy="307.4" r="1.6"/><circle cx="389.3" cy="308.7" r="1.6"/><circle cx="372.9" cy="307.0" r="3.6"/><circle cx="374.9" cy="304.2" r="3.0"/><circle cx="366.4" cy="305.3" r="2.4"/><circle cx="375.7" cy="323.7" r="2.3"/><circle cx="378.8" cy="302.4" r="1.6"/><circle cx="371.9" cy="312.1" r="2.6"/><circle cx="371.2" cy="313.8" r="1.7"/><circle cx="373.6" cy="304.5" r="3.2"/><circle cx="429.0" cy="325.6" r="2.8"/><circle cx="433.8" cy="327.2" r="1.7"/><circle cx="396.9" cy="327.4" r="3.3"/><circle cx="398.3" cy="320.6" r="2.8"/><circle cx="420.7" cy="304.4" r="1.3"/><circle cx="416.0" cy="309.4" r="3.6"/><circle cx="423.9" cy="309.1" r="2.0"/><circle cx="405.6" cy="322.1" r="2.2"/><circle cx="423.7" cy="333.3" r="3.6"/><circle cx="403.1" cy="330.3" r="1.8"/><circle cx="396.8" cy="326.3" r="2.7"/><circle cx="431.4" cy="318.0" r="2.5"/><circle cx="391.8" cy="325.6" r="1.3"/><circle cx="416.8" cy="334.1" r="2.8"/><circle cx="396.2" cy="326.4" r="3.0"/><circle cx="406.9" cy="328.3" r="2.8"/><circle cx="411.1" cy="319.1" r="2.2"/><circle cx="407.9" cy="328.3" r="2.3"/><circle cx="392.9" cy="322.3" r="2.8"/><circle cx="402.1" cy="307.6" r="1.9"/><circle cx="391.8" cy="317.9" r="2.4"/><circle cx="406.1" cy="330.4" r="2.7"/><circle cx="420.9" cy="332.2" r="1.7"/><circle cx="425.6" cy="308.0" r="3.0"/><circle cx="432.1" cy="326.6" r="2.1"/><circle cx="393.8" cy="310.4" r="1.7"/><circle cx="434.5" cy="312.6" r="1.8"/><circle cx="408.2" cy="307.0" r="2.5"/><circle cx="421.3" cy="324.0" r="1.8"/><circle cx="412.5" cy="329.7" r="2.1"/><circle cx="431.6" cy="308.5" r="2.4"/><circle cx="418.2" cy="319.5" r="3.0"/><circle cx="437.9" cy="325.4" r="1.2"/><circle cx="400.4" cy="317.4" r="2.2"/><circle cx="425.2" cy="315.0" r="1.7"/><circle cx="398.9" cy="326.6" r="3.5"/><circle cx="430.7" cy="322.1" r="2.6"/><circle cx="396.1" cy="323.5" r="1.9"/><circle cx="397.1" cy="321.6" r="2.9"/><circle cx="430.5" cy="330.4" r="1.9"/><circle cx="405.6" cy="304.7" r="2.6"/><circle cx="424.6" cy="329.7" r="2.6"/><circle cx="431.9" cy="329.6" r="2.0"/><circle cx="407.7" cy="301.4" r="1.4"/><circle cx="404.9" cy="315.5" r="3.3"/><circle cx="404.0" cy="322.5" r="1.7"/><circle cx="424.3" cy="335.1" r="2.2"/><circle cx="397.7" cy="320.7" r="1.7"/><circle cx="411.3" cy="330.1" r="3.1"/><circle cx="433.2" cy="316.5" r="2.5"/><circle cx="418.9" cy="314.6" r="1.9"/><circle cx="411.7" cy="304.5" r="2.8"/><circle cx="421.0" cy="331.9" r="2.7"/><circle cx="398.4" cy="309.7" r="3.3"/><circle cx="419.7" cy="323.6" r="2.9"/><circle cx="412.0" cy="331.0" r="3.5"/><circle cx="420.0" cy="309.1" r="1.7"/><circle cx="418.4" cy="314.7" r="3.5"/><circle cx="400.7" cy="307.0" r="1.6"/><circle cx="391.2" cy="321.0" r="2.0"/><circle cx="421.2" cy="333.6" r="3.1"/><circle cx="404.4" cy="322.1" r="2.2"/><circle cx="428.5" cy="309.0" r="3.3"/><circle cx="424.4" cy="332.8" r="2.3"/><circle cx="438.2" cy="321.2" r="2.1"/><circle cx="422.8" cy="311.0" r="1.8"/><circle cx="392.4" cy="322.3" r="2.1"/><circle cx="395.4" cy="328.5" r="1.8"/><circle cx="428.2" cy="309.6" r="2.3"/><circle cx="420.6" cy="334.5" r="2.8"/><circle cx="419.6" cy="311.5" r="2.4"/><circle cx="418.9" cy="308.6" r="2.9"/><circle cx="433.7" cy="326.4" r="2.1"/><circle cx="391.8" cy="313.1" r="2.5"/><circle cx="432.8" cy="319.9" r="2.6"/><circle cx="420.7" cy="320.1" r="3.0"/><circle cx="418.3" cy="320.1" r="2.1"/><circle cx="396.6" cy="315.8" r="3.4"/><circle cx="437.8" cy="310.3" r="1.4"/><circle cx="416.4" cy="316.4" r="2.0"/><circle cx="401.8" cy="309.8" r="2.0"/><circle cx="400.1" cy="302.3" r="1.9"/><circle cx="399.0" cy="323.5" r="2.8"/><circle cx="421.7" cy="317.4" r="2.8"/><circle cx="405.2" cy="316.7" r="3.0"/><circle cx="401.2" cy="326.9" r="2.8"/><circle cx="417.9" cy="328.2" r="2.2"/><circle cx="409.1" cy="315.6" r="3.1"/><circle cx="426.4" cy="306.3" r="3.5"/><circle cx="439.6" cy="317.9" r="1.4"/><circle cx="421.5" cy="313.8" r="1.8"/><circle cx="391.3" cy="321.5" r="2.1"/><circle cx="421.3" cy="328.7" r="2.5"/><circle cx="427.6" cy="322.0" r="2.9"/><circle cx="417.9" cy="324.4" r="2.7"/><circle cx="394.9" cy="324.7" r="3.0"/><circle cx="414.5" cy="305.6" r="2.6"/><circle cx="408.3" cy="305.5" r="3.4"/><circle cx="399.3" cy="326.1" r="1.9"/><circle cx="435.9" cy="316.2" r="2.9"/><circle cx="413.4" cy="305.5" r="2.3"/><circle cx="412.5" cy="332.0" r="1.8"/><circle cx="417.4" cy="317.0" r="2.7"/><circle cx="430.1" cy="321.8" r="2.2"/><circle cx="438.2" cy="321.8" r="2.1"/><circle cx="417.8" cy="331.9" r="1.7"/><circle cx="422.9" cy="317.6" r="2.2"/><circle cx="398.4" cy="308.0" r="2.5"/><circle cx="411.5" cy="321.9" r="2.1"/><circle cx="421.5" cy="317.1" r="3.2"/><circle cx="430.7" cy="308.2" r="3.6"/><circle cx="417.8" cy="311.9" r="2.1"/><circle cx="426.1" cy="315.7" r="3.0"/><circle cx="412.4" cy="314.4" r="2.8"/><circle cx="416.6" cy="319.9" r="2.7"/><circle cx="431.4" cy="309.7" r="1.7"/><circle cx="399.2" cy="317.9" r="3.3"/><circle cx="406.2" cy="317.8" r="3.5"/><circle cx="422.9" cy="331.4" r="2.8"/><circle cx="436.0" cy="324.6" r="2.1"/><circle cx="409.1" cy="317.3" r="1.8"/><circle cx="436.7" cy="317.5" r="2.0"/><circle cx="415.0" cy="329.6" r="2.1"/><circle cx="402.5" cy="306.3" r="2.6"/><circle cx="424.9" cy="307.8" r="3.0"/><circle cx="419.8" cy="327.5" r="3.6"/><circle cx="413.2" cy="318.5" r="2.0"/><circle cx="394.7" cy="323.6" r="1.8"/><circle cx="417.6" cy="306.7" r="2.1"/><circle cx="428.8" cy="316.1" r="1.9"/><circle cx="421.6" cy="316.0" r="2.7"/><circle cx="425.6" cy="330.8" r="3.2"/><circle cx="402.8" cy="328.6" r="1.8"/><circle cx="396.8" cy="318.4" r="2.0"/><circle cx="418.5" cy="310.0" r="3.5"/><circle cx="412.1" cy="330.0" r="3.5"/><circle cx="413.1" cy="328.2" r="2.6"/><circle cx="410.4" cy="304.0" r="2.8"/><circle cx="436.6" cy="325.2" r="2.2"/><circle cx="416.7" cy="312.7" r="2.4"/><circle cx="414.5" cy="318.5" r="1.9"/><circle cx="427.1" cy="308.8" r="2.4"/><circle cx="402.8" cy="321.8" r="2.5"/><circle cx="424.7" cy="315.3" r="3.2"/><circle cx="415.1" cy="308.8" r="2.2"/><circle cx="437.9" cy="317.3" r="3.1"/><circle cx="398.2" cy="323.0" r="1.8"/><circle cx="401.5" cy="304.1" r="1.6"/><circle cx="427.2" cy="324.2" r="1.7"/><circle cx="402.1" cy="328.6" r="3.1"/><circle cx="402.1" cy="318.4" r="3.2"/><circle cx="420.6" cy="319.0" r="2.0"/></g>
<g filter="url(#rag)"><polygon points="327,315 334,316 335,322 328,323" fill="#c24ea6" stroke="#c24ea6" stroke-width="1.5" stroke-linejoin="round"/><polygon points="318,278 325,278 326,285 319,286" fill="#c24ea6" stroke="#c24ea6" stroke-width="1.5" stroke-linejoin="round"/><polygon points="365,313 371,314 370,319 365,318" fill="#3c3c98" stroke="#3c3c98" stroke-width="1" stroke-linejoin="round"/><polygon points="377,326 380,326 380,329 377,329" fill="#3c3c98" stroke="#3c3c98" stroke-width="1" stroke-linejoin="round"/><polygon points="313,273 320,273 320,279 313,279" fill="#3c3c98" stroke="#3c3c98" stroke-width="1" stroke-linejoin="round"/><polygon points="369,275 376,275 376,283 369,283" fill="#3c3c98" stroke="#3c3c98" stroke-width="1" stroke-linejoin="round"/><polyline points="330,210 318,228" fill="none" stroke="#3c3c98" stroke-width="2" stroke-linecap="round"/><polyline points="322,230 310,245" fill="none" stroke="#3c3c98" stroke-width="2" stroke-linecap="round"/><polyline points="314,240 303,258" fill="none" stroke="#3c3c98" stroke-width="2" stroke-linecap="round"/><polyline points="383,211 393,218" fill="none" stroke="#3c3c98" stroke-width="2" stroke-linecap="round"/><polyline points="386,221 396,229" fill="none" stroke="#3c3c98" stroke-width="2" stroke-linecap="round"/><polyline points="390,234 399,242" fill="none" stroke="#3c3c98" stroke-width="2" stroke-linecap="round"/><polyline points="372,230 380,237" fill="none" stroke="#3c3c98" stroke-width="2" stroke-linecap="round"/><polyline points="375,286 395,288" fill="none" stroke="#3c3c98" stroke-width="2" stroke-linecap="round"/><polyline points="345,260 355,268" fill="none" stroke="#3c3c98" stroke-width="2" stroke-linecap="round"/><polyline points="340,283 348,289" fill="none" stroke="#3c3c98" stroke-width="2" stroke-linecap="round"/><polyline points="398,318 404,322" fill="none" stroke="#3c3c98" stroke-width="2" stroke-linecap="round"/><polyline points="412,312 418,318" fill="none" stroke="#3c3c98" stroke-width="2" stroke-linecap="round"/><polyline points="425,318 430,326" fill="none" stroke="#3c3c98" stroke-width="2" stroke-linecap="round"/><polyline points="405,330 415,333" fill="none" stroke="#3c3c98" stroke-width="2" stroke-linecap="round"/><polyline points="318,265 326,270" fill="none" stroke="#3c3c98" stroke-width="2" stroke-linecap="round"/><polyline points="305,280 310,286" fill="none" stroke="#3c3c98" stroke-width="2" stroke-linecap="round"/><polyline points="375,260 380,268" fill="none" stroke="#3c3c98" stroke-width="2" stroke-linecap="round"/><polyline points="388,272 392,280" fill="none" stroke="#3c3c98" stroke-width="2" stroke-linecap="round"/><polyline points="366,300 372,306" fill="none" stroke="#3c3c98" stroke-width="2" stroke-linecap="round"/><polyline points="330,318 336,322" fill="none" stroke="#3c3c98" stroke-width="2" stroke-linecap="round"/><polyline points="364,244 374,253" fill="none" stroke="#3c3c98" stroke-width="2" stroke-linecap="round"/></g>
</g>
</svg>
</body></html>
